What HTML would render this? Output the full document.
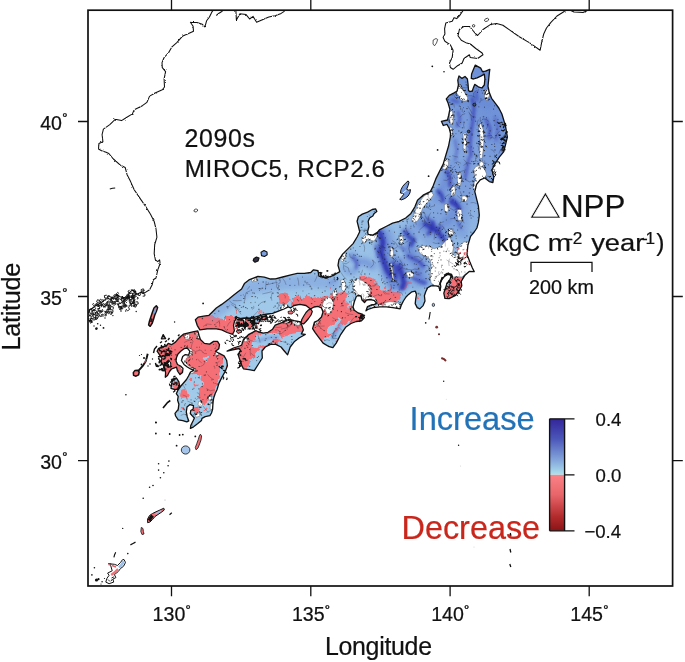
<!DOCTYPE html>
<html lang="en"><head><meta charset="utf-8"><title>NPP change map 2090s MIROC5 RCP2.6</title>
<style>html,body{margin:0;padding:0;background:#fff}svg{display:block}text{font-family:'Liberation Sans', sans-serif;fill:#111;stroke:#111;stroke-width:0.22px}</style>
</head><body>
<svg width="685" height="662" viewBox="0 0 685 662">
<rect width="685" height="662" fill="#fff"/>
<defs>
<clipPath id="frameclip"><rect x="88" y="10" width="584.6" height="576"/></clipPath>
<clipPath id="land"><path d="M459.0 75.9 L462.0 78.4 L465.0 76.5 L467.4 79.0 L468.0 83.8 L468.5 90.4 L469.8 91.6 L472.3 91.0 L473.5 87.4 L474.7 84.4 L478.3 86.8 L481.9 88.0 L484.3 85.0 L484.9 79.0 L484.3 74.1 L481.3 75.9 L477.1 77.8 L473.5 79.0 L471.3 78.4 L471.6 74.1 L473.5 69.3 L475.3 65.1 L480.7 68.1 L482.5 71.7 L485.5 71.1 L489.8 69.3 L489.2 74.1 L488.6 80.2 L488.0 86.2 L489.2 92.3 L491.6 98.3 L495.2 103.1 L498.8 108.0 L501.9 114.0 L503.7 120.0 L505.5 126.1 L507.4 137.2 L505.6 144.4 L503.8 151.7 L499.3 157.1 L494.7 164.4 L492.0 169.8 L493.8 177.1 L492.9 182.5 L489.3 181.6 L484.8 178.0 L480.2 179.8 L476.6 184.3 L474.8 191.6 L476.6 198.8 L478.4 206.1 L479.3 215.1 L478.4 222.4 L476.9 228.0 L474.2 232.0 L470.6 236.3 L467.9 245.3 L467.0 254.4 L469.7 261.6 L472.4 268.0 L474.2 271.6 L469.2 271.5 L465.0 275.2 L461.2 281.5 L461.8 285.8 L459.7 290.0 L455.5 295.3 L449.1 298.6 L444.9 298.4 L443.8 293.2 L445.2 288.8 L447.0 283.4 L450.0 279.5 L451.4 275.2 L448.0 273.8 L444.7 276.0 L442.1 279.3 L440.1 282.6 L440.8 286.5 L440.1 290.5 L438.8 286.5 L436.2 285.9 L431.0 285.9 L427.7 287.8 L425.7 291.8 L424.4 295.7 L425.0 301.0 L423.1 305.6 L419.8 308.9 L417.2 307.6 L415.2 303.6 L415.8 298.4 L416.5 294.4 L415.2 291.1 L411.9 291.8 L408.6 294.4 L406.0 297.0 L403.4 301.0 L401.4 304.9 L400.1 308.9 L392.8 307.6 L386.3 306.9 L379.7 306.9 L373.1 307.6 L367.9 309.5 L366.0 310.8 L367.5 306.5 L371.0 305.0 L374.7 304.4 L376.6 303.1 L374.0 300.3 L370.0 299.5 L366.5 300.0 L364.5 302.5 L362.0 300.0 L361.0 296.0 L358.0 295.5 L356.3 296.5 L354.3 301.8 L353.0 307.0 L354.3 310.3 L358.2 313.0 L362.8 314.3 L364.4 317.6 L361.5 320.8 L356.3 321.5 L351.0 323.5 L345.6 327.3 L340.3 335.2 L336.2 343.1 L332.9 347.7 L328.3 346.3 L323.1 343.1 L319.1 337.8 L315.2 332.6 L312.6 328.6 L314.5 322.0 L318.0 320.5 L321.5 317.0 L323.0 312.0 L321.5 308.0 L318.0 306.3 L314.0 307.0 L310.5 309.0 L306.0 305.5 L300.0 304.3 L294.0 305.5 L290.5 308.0 L288.3 306.8 L284.0 309.0 L279.1 310.8 L272.6 313.4 L268.0 314.0 L263.4 314.7 L256.8 316.7 L251.0 318.5 L246.3 318.0 L241.0 318.5 L237.0 317.3 L234.5 321.3 L233.5 325.3 L234.4 330.7 L232.6 334.3 L227.1 332.5 L221.7 329.8 L216.3 328.9 L207.2 328.9 L199.9 329.8 L197.2 325.3 L195.4 319.8 L198.1 317.1 L203.6 316.2 L209.0 315.3 L212.6 311.7 L216.3 308.0 L221.7 304.4 L228.9 299.0 L234.4 294.4 L241.6 289.0 L244.4 283.6 L248.9 279.9 L257.9 276.3 L264.3 277.2 L270.6 279.0 L275.4 278.8 L282.7 277.0 L289.9 275.2 L297.2 273.4 L304.4 273.4 L310.8 272.5 L313.5 269.8 L318.0 270.7 L318.9 276.1 L322.6 277.0 L326.2 277.9 L331.6 276.1 L335.3 274.3 L339.8 271.6 L338.0 265.3 L338.9 259.8 L342.6 254.1 L347.9 248.9 L353.1 243.6 L357.1 237.0 L359.7 231.8 L358.4 226.5 L357.1 221.3 L358.4 216.7 L362.3 214.1 L367.6 212.1 L372.2 209.5 L375.5 208.8 L376.8 211.4 L374.2 213.4 L372.8 216.0 L369.6 218.0 L368.2 221.3 L368.9 226.5 L367.6 231.8 L368.2 234.4 L372.8 235.1 L377.4 232.4 L379.4 229.8 L386.0 226.5 L392.6 223.2 L399.1 221.3 L405.7 218.0 L410.9 213.4 L414.9 206.8 L417.5 200.3 L423.1 195.2 L430.4 191.6 L433.1 186.1 L435.8 178.9 L439.4 171.6 L443.1 164.4 L445.8 155.3 L448.5 146.3 L450.3 137.2 L450.5 133.3 L449.3 128.5 L446.9 124.3 L443.3 125.5 L441.4 121.3 L447.5 120.0 L448.7 115.2 L449.9 109.2 L448.1 103.1 L446.3 98.9 L449.3 95.3 L454.1 92.9 L457.1 91.0 L458.4 85.0 L457.8 80.2 Z M300.7 322.0 L303.4 329.9 L301.4 333.9 L305.3 334.5 L299.4 337.8 L294.2 341.8 L290.2 347.0 L287.6 354.9 L284.3 351.0 L281.0 347.0 L275.8 344.4 L270.5 344.4 L265.3 347.0 L262.0 351.0 L262.3 358.0 L258.5 364.0 L254.3 370.6 L248.9 369.7 L243.4 368.8 L241.6 365.1 L239.8 359.7 L238.0 354.3 L240.7 350.6 L239.0 348.5 L234.0 349.6 L227.1 351.2 L233.5 348.0 L239.5 346.0 L241.6 345.2 L243.4 339.8 L248.9 334.3 L256.1 330.7 L258.1 331.8 L263.4 333.1 L268.0 332.3 L272.6 329.2 L275.2 325.2 L281.8 322.6 L288.9 319.4 L294.2 320.7 Z M157.1 351.3 L158.4 348.7 L162.3 346.7 L166.3 346.0 L168.2 343.4 L171.5 344.7 L175.5 342.1 L179.4 337.5 L183.4 334.2 L188.6 332.9 L193.9 331.6 L197.8 330.9 L199.1 335.5 L200.4 339.5 L204.4 343.4 L209.6 344.1 L213.6 341.4 L217.5 341.4 L219.5 344.7 L218.8 348.7 L215.5 351.3 L218.8 353.2 L224.1 355.9 L226.7 360.5 L227.4 365.7 L225.4 371.0 L221.6 377.9 L219.0 383.1 L217.0 389.7 L215.2 393.5 L213.7 398.0 L213.1 401.9 L212.8 406.0 L212.6 409.3 L211.5 413.0 L209.9 415.7 L205.2 416.7 L202.0 418.3 L201.5 420.4 L197.8 423.6 L193.6 426.8 L190.4 428.4 L190.9 425.2 L193.0 421.0 L194.4 418.0 L192.0 415.5 L190.3 413.5 L190.8 410.5 L193.2 409.0 L193.5 405.5 L190.0 404.5 L187.0 407.0 L186.3 412.0 L187.3 417.0 L188.8 421.0 L186.8 421.9 L182.8 420.6 L178.2 419.9 L175.6 416.0 L175.0 413.4 L178.2 409.4 L178.9 404.2 L177.6 400.2 L178.2 396.3 L176.3 393.7 L178.0 390.0 L180.5 386.5 L183.5 383.0 L186.5 379.5 L188.5 376.0 L190.5 372.0 L193.9 370.3 L190.6 369.0 L187.3 367.0 L184.0 364.4 L181.4 360.5 L182.7 356.5 L185.3 354.6 L188.6 355.2 L189.9 351.3 L187.3 348.0 L184.0 348.7 L181.0 351.0 L178.0 354.0 L176.5 357.5 L176.0 361.0 L177.5 364.5 L180.5 366.0 L183.0 368.5 L182.5 372.5 L180.0 374.6 L177.5 371.0 L176.5 367.2 L174.5 367.8 L171.5 369.0 L169.5 371.5 L167.5 375.5 L165.3 377.2 L165.6 373.0 L165.0 369.0 L163.1 364.9 L161.0 361.7 L162.0 358.6 L159.9 355.4 L157.8 352.2 Z M171.0 388.4 L171.7 383.1 L173.0 379.2 L176.3 377.9 L178.9 381.8 L179.6 385.8 L177.5 389.0 L175.0 389.7 Z"/></clipPath>
<linearGradient id="cbU" x1="0" y1="0" x2="0" y2="1"><stop offset="0" stop-color="#33259a"/><stop offset="0.35" stop-color="#4a55b8"/><stop offset="0.75" stop-color="#86a8dc"/><stop offset="1" stop-color="#aee3ee"/></linearGradient>
<linearGradient id="cbL" x1="0" y1="0" x2="0" y2="1"><stop offset="0" stop-color="#fb8288"/><stop offset="0.35" stop-color="#e9666a"/><stop offset="0.75" stop-color="#b22a2c"/><stop offset="1" stop-color="#8a1416"/></linearGradient>
<linearGradient id="landg" gradientUnits="userSpaceOnUse" x1="500" y1="70" x2="200" y2="330"><stop offset="0" stop-color="#6d8fd7"/><stop offset="0.12" stop-color="#7295d9"/><stop offset="0.22" stop-color="#84a7df"/><stop offset="0.32" stop-color="#8fb6e3"/><stop offset="0.6" stop-color="#9bc4e8"/><stop offset="1" stop-color="#a2cbea"/></linearGradient>
<filter id="b2" x="-30%" y="-30%" width="160%" height="160%"><feGaussianBlur stdDeviation="1.6"/></filter>
<filter id="rough" filterUnits="userSpaceOnUse" x="88" y="10" width="584" height="576"><feTurbulence type="fractalNoise" baseFrequency="0.16" numOctaves="2" seed="4" result="n"/><feDisplacementMap in="SourceGraphic" in2="n" scale="7" xChannelSelector="R" yChannelSelector="G"/></filter>
<filter id="b3" x="-30%" y="-30%" width="160%" height="160%"><feGaussianBlur stdDeviation="2.4"/></filter>
<filter id="wig" filterUnits="userSpaceOnUse" x="88" y="10" width="585" height="576"><feTurbulence type="fractalNoise" baseFrequency="0.45" numOctaves="2" seed="8" result="n"/><feDisplacementMap in="SourceGraphic" in2="n" scale="2.2" xChannelSelector="R" yChannelSelector="G"/></filter>
<filter id="b1" x="-30%" y="-30%" width="160%" height="160%"><feGaussianBlur stdDeviation="0.8"/></filter>
</defs>
<g clip-path="url(#frameclip)">
<g filter="url(#wig)">
<path d="M212.8 10.6 L211.9 12.0 L209.3 17.3 L206.6 20.8 L204.9 26.9 L202.3 24.3 L197.0 22.5 L191.8 22.5 L190.4 22.3 L193.1 26.3 L193.5 31.3 L188.6 33.6 L182.3 36.3 L176.8 42.6 L171.7 47.2 L168.7 52.6 L164.1 57.5 L162.0 62.6 L162.3 67.6 L165.6 71.6 L164.1 78.9 L164.5 87.0 L162.3 89.8 L155.1 93.0 L149.6 96.1 L146.9 102.4 L142.4 105.7 L134.2 109.7 L132.4 113.9 L126.1 117.8 L121.5 120.6 L115.2 119.3 L109.8 124.6 L103.4 129.1 L102.1 134.5 L102.9 141.8 L98.9 143.6 L98.5 149.0 L101.6 150.8 L106.1 152.3 L108.8 153.5 L113.4 159.0 L120.6 165.3 L125.2 167.5 L127.0 174.4 L130.6 181.6 L134.2 189.8 L139.7 197.9 L146.0 207.0 L150.5 214.3 L154.2 221.5 L156.0 228.8 L156.9 237.3 L154.7 244.5 L154.2 253.6 L155.4 259.9 L157.8 261.7 L159.6 259.9 L160.1 263.5 L157.8 269.9 L156.0 278.0 L153.3 279.8 L152.3 284.4 L149.6 289.8 L144.2 293.1 L140.6 292.5 L136.9 294.3 L132.4 289.8 L128.8 293.4 L127.0 298.0 L120.6 297.1 L117.0 294.3 L113.4 298.0 L106.1 298.9 L102.5 301.6 L95.3 306.1 L89.8 309.8 L88.0 313.4" fill="none" stroke="#111" stroke-width="1.05" stroke-linejoin="round"/>
<path d="M216.3 15.5 L219.0 13.2 L221.5 11.7 L223.0 10.5" fill="none" stroke="#111" stroke-width="1.05" stroke-linejoin="round"/>
<path d="M235.9 10.7 L236.4 19.9 L239.9 13.8 L246.1 14.6 L249.6 19.0 L253.1 16.4 L256.6 22.2 L261.8 19.9 L268.8 16.9 L275.8 15.5 L281.1 13.4 L284.6 11.1" fill="none" stroke="#111" stroke-width="1.05" stroke-linejoin="round"/>
<path d="M463.1 10.5 L459.4 15.9 L456.7 18.6 L454.0 17.7 L452.2 21.3 L445.8 23.1 L444.6 28.6 L444.9 34.0 L443.1 37.6 L444.9 41.3 L450.4 44.9 L453.1 50.3 L452.2 57.6 L449.5 63.0 L450.4 67.5 L453.1 69.3 L457.6 65.7 L462.2 63.0 L464.0 58.5 L469.4 54.8 L470.3 57.6 L477.6 58.5 L483.0 54.8 L482.1 53.0 L475.8 48.5 L470.3 44.0 L466.7 43.1 L461.3 40.3 L458.0 35.8 L459.4 29.5 L464.0 26.4 L469.4 26.4 L472.1 29.5 L475.8 34.0 L477.6 35.5 L483.0 29.5 L490.3 24.6 L496.6 23.5 L502.9 25.3 L510.2 30.4 L519.3 36.7 L530.1 43.1 L540.1 50.3 L541.9 41.3 L543.7 34.0 L546.5 28.0 L550.7 22.6 L557.0 16.0 L565.8 10.5" fill="none" stroke="#111" stroke-width="1.05" stroke-linejoin="round"/>
<path d="M570.8 10.5 L574.0 12.0 L579.0 12.3 L583.0 12.6 L586.0 11.3 L587.0 10.5" fill="none" stroke="#111" stroke-width="1.05" stroke-linejoin="round"/>
</g>
<path d="M459.0 75.9 L462.0 78.4 L465.0 76.5 L467.4 79.0 L468.0 83.8 L468.5 90.4 L469.8 91.6 L472.3 91.0 L473.5 87.4 L474.7 84.4 L478.3 86.8 L481.9 88.0 L484.3 85.0 L484.9 79.0 L484.3 74.1 L481.3 75.9 L477.1 77.8 L473.5 79.0 L471.3 78.4 L471.6 74.1 L473.5 69.3 L475.3 65.1 L480.7 68.1 L482.5 71.7 L485.5 71.1 L489.8 69.3 L489.2 74.1 L488.6 80.2 L488.0 86.2 L489.2 92.3 L491.6 98.3 L495.2 103.1 L498.8 108.0 L501.9 114.0 L503.7 120.0 L505.5 126.1 L507.4 137.2 L505.6 144.4 L503.8 151.7 L499.3 157.1 L494.7 164.4 L492.0 169.8 L493.8 177.1 L492.9 182.5 L489.3 181.6 L484.8 178.0 L480.2 179.8 L476.6 184.3 L474.8 191.6 L476.6 198.8 L478.4 206.1 L479.3 215.1 L478.4 222.4 L476.9 228.0 L474.2 232.0 L470.6 236.3 L467.9 245.3 L467.0 254.4 L469.7 261.6 L472.4 268.0 L474.2 271.6 L469.2 271.5 L465.0 275.2 L461.2 281.5 L461.8 285.8 L459.7 290.0 L455.5 295.3 L449.1 298.6 L444.9 298.4 L443.8 293.2 L445.2 288.8 L447.0 283.4 L450.0 279.5 L451.4 275.2 L448.0 273.8 L444.7 276.0 L442.1 279.3 L440.1 282.6 L440.8 286.5 L440.1 290.5 L438.8 286.5 L436.2 285.9 L431.0 285.9 L427.7 287.8 L425.7 291.8 L424.4 295.7 L425.0 301.0 L423.1 305.6 L419.8 308.9 L417.2 307.6 L415.2 303.6 L415.8 298.4 L416.5 294.4 L415.2 291.1 L411.9 291.8 L408.6 294.4 L406.0 297.0 L403.4 301.0 L401.4 304.9 L400.1 308.9 L392.8 307.6 L386.3 306.9 L379.7 306.9 L373.1 307.6 L367.9 309.5 L366.0 310.8 L367.5 306.5 L371.0 305.0 L374.7 304.4 L376.6 303.1 L374.0 300.3 L370.0 299.5 L366.5 300.0 L364.5 302.5 L362.0 300.0 L361.0 296.0 L358.0 295.5 L356.3 296.5 L354.3 301.8 L353.0 307.0 L354.3 310.3 L358.2 313.0 L362.8 314.3 L364.4 317.6 L361.5 320.8 L356.3 321.5 L351.0 323.5 L345.6 327.3 L340.3 335.2 L336.2 343.1 L332.9 347.7 L328.3 346.3 L323.1 343.1 L319.1 337.8 L315.2 332.6 L312.6 328.6 L314.5 322.0 L318.0 320.5 L321.5 317.0 L323.0 312.0 L321.5 308.0 L318.0 306.3 L314.0 307.0 L310.5 309.0 L306.0 305.5 L300.0 304.3 L294.0 305.5 L290.5 308.0 L288.3 306.8 L284.0 309.0 L279.1 310.8 L272.6 313.4 L268.0 314.0 L263.4 314.7 L256.8 316.7 L251.0 318.5 L246.3 318.0 L241.0 318.5 L237.0 317.3 L234.5 321.3 L233.5 325.3 L234.4 330.7 L232.6 334.3 L227.1 332.5 L221.7 329.8 L216.3 328.9 L207.2 328.9 L199.9 329.8 L197.2 325.3 L195.4 319.8 L198.1 317.1 L203.6 316.2 L209.0 315.3 L212.6 311.7 L216.3 308.0 L221.7 304.4 L228.9 299.0 L234.4 294.4 L241.6 289.0 L244.4 283.6 L248.9 279.9 L257.9 276.3 L264.3 277.2 L270.6 279.0 L275.4 278.8 L282.7 277.0 L289.9 275.2 L297.2 273.4 L304.4 273.4 L310.8 272.5 L313.5 269.8 L318.0 270.7 L318.9 276.1 L322.6 277.0 L326.2 277.9 L331.6 276.1 L335.3 274.3 L339.8 271.6 L338.0 265.3 L338.9 259.8 L342.6 254.1 L347.9 248.9 L353.1 243.6 L357.1 237.0 L359.7 231.8 L358.4 226.5 L357.1 221.3 L358.4 216.7 L362.3 214.1 L367.6 212.1 L372.2 209.5 L375.5 208.8 L376.8 211.4 L374.2 213.4 L372.8 216.0 L369.6 218.0 L368.2 221.3 L368.9 226.5 L367.6 231.8 L368.2 234.4 L372.8 235.1 L377.4 232.4 L379.4 229.8 L386.0 226.5 L392.6 223.2 L399.1 221.3 L405.7 218.0 L410.9 213.4 L414.9 206.8 L417.5 200.3 L423.1 195.2 L430.4 191.6 L433.1 186.1 L435.8 178.9 L439.4 171.6 L443.1 164.4 L445.8 155.3 L448.5 146.3 L450.3 137.2 L450.5 133.3 L449.3 128.5 L446.9 124.3 L443.3 125.5 L441.4 121.3 L447.5 120.0 L448.7 115.2 L449.9 109.2 L448.1 103.1 L446.3 98.9 L449.3 95.3 L454.1 92.9 L457.1 91.0 L458.4 85.0 L457.8 80.2 Z M300.7 322.0 L303.4 329.9 L301.4 333.9 L305.3 334.5 L299.4 337.8 L294.2 341.8 L290.2 347.0 L287.6 354.9 L284.3 351.0 L281.0 347.0 L275.8 344.4 L270.5 344.4 L265.3 347.0 L262.0 351.0 L262.3 358.0 L258.5 364.0 L254.3 370.6 L248.9 369.7 L243.4 368.8 L241.6 365.1 L239.8 359.7 L238.0 354.3 L240.7 350.6 L239.0 348.5 L234.0 349.6 L227.1 351.2 L233.5 348.0 L239.5 346.0 L241.6 345.2 L243.4 339.8 L248.9 334.3 L256.1 330.7 L258.1 331.8 L263.4 333.1 L268.0 332.3 L272.6 329.2 L275.2 325.2 L281.8 322.6 L288.9 319.4 L294.2 320.7 Z M157.1 351.3 L158.4 348.7 L162.3 346.7 L166.3 346.0 L168.2 343.4 L171.5 344.7 L175.5 342.1 L179.4 337.5 L183.4 334.2 L188.6 332.9 L193.9 331.6 L197.8 330.9 L199.1 335.5 L200.4 339.5 L204.4 343.4 L209.6 344.1 L213.6 341.4 L217.5 341.4 L219.5 344.7 L218.8 348.7 L215.5 351.3 L218.8 353.2 L224.1 355.9 L226.7 360.5 L227.4 365.7 L225.4 371.0 L221.6 377.9 L219.0 383.1 L217.0 389.7 L215.2 393.5 L213.7 398.0 L213.1 401.9 L212.8 406.0 L212.6 409.3 L211.5 413.0 L209.9 415.7 L205.2 416.7 L202.0 418.3 L201.5 420.4 L197.8 423.6 L193.6 426.8 L190.4 428.4 L190.9 425.2 L193.0 421.0 L194.4 418.0 L192.0 415.5 L190.3 413.5 L190.8 410.5 L193.2 409.0 L193.5 405.5 L190.0 404.5 L187.0 407.0 L186.3 412.0 L187.3 417.0 L188.8 421.0 L186.8 421.9 L182.8 420.6 L178.2 419.9 L175.6 416.0 L175.0 413.4 L178.2 409.4 L178.9 404.2 L177.6 400.2 L178.2 396.3 L176.3 393.7 L178.0 390.0 L180.5 386.5 L183.5 383.0 L186.5 379.5 L188.5 376.0 L190.5 372.0 L193.9 370.3 L190.6 369.0 L187.3 367.0 L184.0 364.4 L181.4 360.5 L182.7 356.5 L185.3 354.6 L188.6 355.2 L189.9 351.3 L187.3 348.0 L184.0 348.7 L181.0 351.0 L178.0 354.0 L176.5 357.5 L176.0 361.0 L177.5 364.5 L180.5 366.0 L183.0 368.5 L182.5 372.5 L180.0 374.6 L177.5 371.0 L176.5 367.2 L174.5 367.8 L171.5 369.0 L169.5 371.5 L167.5 375.5 L165.3 377.2 L165.6 373.0 L165.0 369.0 L163.1 364.9 L161.0 361.7 L162.0 358.6 L159.9 355.4 L157.8 352.2 Z M171.0 388.4 L171.7 383.1 L173.0 379.2 L176.3 377.9 L178.9 381.8 L179.6 385.8 L177.5 389.0 L175.0 389.7 Z" fill="url(#landg)"/>
<g clip-path="url(#land)">
<g filter="url(#rough)">
<path d="M150.0 325.0 L232.0 325.0 L228.0 352.0 L222.5 362.0 L221.0 372.0 L217.5 382.0 L214.0 392.0 L210.5 401.0 L205.0 405.0 L200.0 402.0 L199.0 393.0 L201.0 385.0 L203.0 377.0 L196.0 374.0 L188.0 377.0 L182.0 377.0 L170.0 377.0 L150.0 377.0 Z" fill="#f46f76" />
<path d="M181.0 390.0 L185.0 389.0 L187.5 393.0 L186.0 398.0 L182.5 399.0 L180.0 396.0 Z" fill="#f46f76" />
<path d="M178.0 378.0 L181.0 384.0 L178.0 390.0 L173.0 389.0 L172.0 383.0 Z" fill="#f46f76" />
<path d="M192.0 408.0 L197.0 406.0 L199.0 411.0 L195.0 414.0 Z" fill="#f46f76" />
<path d="M195.0 317.0 L203.0 316.3 L212.0 315.0 L220.0 318.5 L228.0 321.3 L236.0 322.0 L236.0 336.0 L195.0 336.0 Z" fill="#f46f76" />
<path d="M292.0 301.0 L294.0 298.0 L300.0 296.8 L310.0 297.2 L320.0 296.0 L330.0 294.5 L338.0 293.0 L345.0 292.0 L352.0 297.0 L356.0 305.0 L360.0 312.0 L366.0 316.0 L364.0 322.0 L350.0 326.0 L340.0 340.0 L333.0 350.0 L320.0 345.0 L311.0 330.0 L311.0 310.0 L300.0 308.0 L292.0 308.0 Z" fill="#f46f76" />
<path d="M277.0 296.5 L280.0 293.5 L285.0 292.5 L289.0 294.0 L289.5 300.0 L285.0 303.5 L279.0 302.5 Z" fill="#f46f76" />
<path d="M357.0 279.0 L360.0 276.5 L366.0 275.5 L373.0 278.0 L378.0 283.0 L380.0 289.0 L379.5 296.0 L377.1 300.0 L373.1 303.5 L366.0 304.0 L364.0 298.0 L367.0 292.0 L366.0 285.0 L361.0 280.0 Z" fill="#f46f76" />
<path d="M376.5 301.0 L378.0 294.0 L381.0 289.5 L386.0 290.0 L391.5 287.5 L395.0 291.0 L399.0 291.5 L402.0 295.0 L399.5 300.0 L393.0 303.0 L386.3 304.0 L380.0 305.0 Z" fill="#f46f76" />
<path d="M403.4 289.0 L405.0 283.0 L409.0 280.0 L411.2 282.0 L408.0 286.0 L406.0 290.0 Z" fill="#f46f76" />
<path d="M416.5 295.7 L419.0 295.7 L419.0 298.4 L416.5 298.4 Z" fill="#f46f76" />
<path d="M450.2 281.5 L452.5 277.8 L457.0 276.3 L461.0 277.0 L464.0 279.0 L462.5 285.8 L460.5 290.0 L456.0 296.0 L449.1 299.5 L443.5 299.5 L443.0 293.2 L446.0 287.9 Z" fill="#f46f76" />
<path d="M225.0 317.0 L308.0 317.0 L308.0 372.0 L225.0 372.0 Z" fill="#f46f76" />
<path d="M229.0 356.0 L229.0 368.0 L226.0 374.0 L222.0 381.0 L219.5 388.0 L217.0 395.0 L214.5 402.0 L212.0 410.0 L216.0 410.0 L230.0 372.0 Z" fill="#a0c9ea" />
<path d="M283.0 336.0 L290.0 334.0 L296.0 333.0 L303.0 333.0 L306.0 335.0 L299.4 339.0 L294.2 343.0 L290.2 348.0 L288.0 356.0 L284.3 352.0 L281.0 347.5 L276.0 345.0 L279.0 340.0 Z" fill="#a0c9ea" />
<path d="M253.0 341.0 L257.0 335.0 L264.0 334.0 L272.0 333.5 L279.0 334.5 L282.0 338.0 L276.0 342.0 L268.0 343.5 L262.0 346.0 L256.0 348.0 L252.0 347.0 Z" fill="#a0c9ea" />
<path d="M245.0 366.0 L251.0 362.0 L259.0 361.0 L258.0 367.0 L255.0 372.0 L247.0 371.0 Z" fill="#a0c9ea" />
<path d="M262.0 349.0 L266.0 346.0 L269.0 346.5 L264.0 355.0 L260.0 363.0 L256.0 372.0 L246.0 371.5 L249.0 364.0 L254.0 357.0 L258.0 352.0 Z" fill="#a0c9ea" />
<path d="M321.0 341.0 L326.0 337.0 L332.0 335.0 L337.0 331.0 L341.0 326.0 L347.0 322.0 L352.0 322.0 L345.6 328.3 L340.3 336.2 L336.2 344.1 L333.0 350.0 L328.0 348.0 L322.0 344.0 Z" fill="#a0c9ea" />
<path d="M327.0 332.0 L331.0 326.0 L336.0 321.0 L340.0 318.0 L343.0 320.0 L339.0 325.0 L335.0 330.0 L331.0 334.0 Z" fill="#a0c9ea" />
<path d="M346.5 273.0 L354.4 273.0 L354.0 285.0 L352.5 296.0 L351.5 304.0 L349.0 309.0 L346.5 301.0 L347.0 290.0 Z" fill="#a0c9ea" />
<path d="M184.0 376.0 L196.0 373.5 L203.0 377.0 L201.0 385.0 L199.0 393.0 L190.0 392.5 L186.0 387.5 L181.0 388.5 L183.0 381.0 Z" fill="#a0c9ea" />
<circle cx="204" cy="397" r="3.2" fill="#f46f76"/>
<circle cx="186" cy="396" r="2.6" fill="#f46f76"/>
<circle cx="199" cy="410" r="1.8" fill="#f46f76"/>
<circle cx="183" cy="408" r="1.5" fill="#f46f76"/>
<circle cx="206" cy="409" r="1.6" fill="#f46f76"/>
<circle cx="195" cy="384" r="1.5" fill="#f46f76"/>
<circle cx="190" cy="380" r="1.2" fill="#f46f76"/>
<circle cx="276" cy="340" r="2.6" fill="#f46f76"/>
<circle cx="271" cy="345" r="2" fill="#f46f76"/>
<circle cx="261" cy="311.5" r="1.2" fill="#f46f76"/>
<circle cx="236" cy="312" r="1.0" fill="#f46f76"/>
<circle cx="330" cy="288" r="1.2" fill="#f46f76"/>
<circle cx="385" cy="287" r="1.2" fill="#f46f76"/>
<circle cx="478" cy="250" r="1.0" fill="#f46f76"/>
<circle cx="474" cy="256" r="1.0" fill="#f46f76"/>
<circle cx="470" cy="262" r="1.1" fill="#f46f76"/>
<circle cx="462" cy="260" r="0.9" fill="#f46f76"/>
<circle cx="466" cy="266" r="1.0" fill="#f46f76"/>
<circle cx="205.7" cy="359.2" r="2.1" fill="#a0c9ea"/>
</g>
<g filter="url(#b3)">
<path d="M380.0 232.0 L384.0 245.0 L384.0 258.0 L388.0 272.0 L394.0 284.0" fill="none" stroke="#5f7bd0" stroke-width="13" stroke-linecap="round" stroke-linejoin="round" opacity="0.75"/>
<path d="M398.0 262.0 L402.0 274.0 L402.0 286.0" fill="none" stroke="#5f7bd0" stroke-width="10" stroke-linecap="round" stroke-linejoin="round" opacity="0.75"/>
<path d="M406.0 232.0 L412.0 240.0 L408.0 250.0 L414.0 260.0 L420.0 266.0 L418.0 276.0 L424.0 282.0" fill="none" stroke="#5f7bd0" stroke-width="10" stroke-linecap="round" stroke-linejoin="round" opacity="0.65"/>
<path d="M422.0 224.0 L432.0 228.0 L440.0 234.0 L446.0 242.0" fill="none" stroke="#5f7bd0" stroke-width="11" stroke-linecap="round" stroke-linejoin="round" opacity="0.7"/>
<path d="M450.0 202.0 L458.0 208.0 L452.0 216.0 L446.0 222.0" fill="none" stroke="#5f7bd0" stroke-width="9" stroke-linecap="round" stroke-linejoin="round" opacity="0.6"/>
<path d="M436.0 198.0 L442.0 190.0 L446.0 180.0 L448.0 172.0" fill="none" stroke="#5f7bd0" stroke-width="8" stroke-linecap="round" stroke-linejoin="round" opacity="0.55"/>
<path d="M352.0 256.0 L358.0 262.0 L366.0 262.0 L372.0 266.0" fill="none" stroke="#5f7bd0" stroke-width="8" stroke-linecap="round" stroke-linejoin="round" opacity="0.55"/>
<path d="M344.0 268.0 L350.0 274.0 L356.0 270.0" fill="none" stroke="#5f7bd0" stroke-width="6" stroke-linecap="round" stroke-linejoin="round" opacity="0.4"/>
<path d="M214.0 313.0 L232.0 300.0 L252.0 287.0 L278.0 284.0 L308.0 281.0 L334.0 283.0" fill="none" stroke="#7a9bdb" stroke-width="13" stroke-linecap="round" stroke-linejoin="round" opacity="0.5"/>
<path d="M452.0 100.0 L470.0 96.0 L488.0 104.0" fill="none" stroke="#5f7fd2" stroke-width="12" stroke-linecap="round" stroke-linejoin="round" opacity="0.35"/>
<path d="M418.0 200.0 L470.0 200.0 L468.0 240.0 L452.0 236.0 L446.0 246.0 L426.0 246.0 L418.0 236.0 L408.0 228.0 Z" fill="#6b8dd6" opacity="0.42"/>
<path d="M408.0 246.0 L428.0 248.0 L430.0 262.0 L430.0 284.0 L416.0 290.0 L404.0 284.0 L400.0 262.0 Z" fill="#6b8dd6" opacity="0.42"/>
<path d="M376.0 232.0 L392.0 228.0 L398.0 246.0 L398.0 270.0 L404.0 290.0 L392.0 292.0 L384.0 276.0 L378.0 256.0 Z" fill="#6b8dd6" opacity="0.42"/>
<path d="M440.0 160.0 L470.0 160.0 L474.0 200.0 L436.0 200.0 Z" fill="#6b8dd6" opacity="0.42"/>
</g>
<g filter="url(#b2)">
<path d="M380.0 233.0 L383.0 242.0 L381.0 252.0 L384.0 262.0 L387.0 270.0 L391.0 276.0" fill="none" stroke="#2d32b0" stroke-width="5.5" stroke-linecap="round" stroke-linejoin="round" opacity="0.9"/>
<path d="M376.0 246.0 L378.0 256.0" fill="none" stroke="#2d32b0" stroke-width="3" stroke-linecap="round" stroke-linejoin="round" opacity="0.6"/>
<path d="M393.0 263.0 L396.0 271.0 L396.0 279.0" fill="none" stroke="#2d32b0" stroke-width="3.5" stroke-linecap="round" stroke-linejoin="round" opacity="0.8"/>
<path d="M399.0 266.0 L402.0 275.0 L404.0 283.0 L402.0 288.0" fill="none" stroke="#2d32b0" stroke-width="5" stroke-linecap="round" stroke-linejoin="round" opacity="0.9"/>
<path d="M353.0 257.0 L357.0 263.0 L356.0 268.0" fill="none" stroke="#2d32b0" stroke-width="3" stroke-linecap="round" stroke-linejoin="round" opacity="0.6"/>
<path d="M405.0 232.0 L409.0 237.0 L414.0 240.0 L411.0 245.0" fill="none" stroke="#2d32b0" stroke-width="4" stroke-linecap="round" stroke-linejoin="round" opacity="0.8"/>
<path d="M400.0 246.0 L404.0 250.0" fill="none" stroke="#2d32b0" stroke-width="3" stroke-linecap="round" stroke-linejoin="round" opacity="0.5"/>
<path d="M425.0 224.0 L431.0 228.0 L437.0 231.0 L442.0 237.0" fill="none" stroke="#2d32b0" stroke-width="4.5" stroke-linecap="round" stroke-linejoin="round" opacity="0.9"/>
<path d="M433.0 222.0 L432.0 229.0 L428.0 234.0" fill="none" stroke="#2d32b0" stroke-width="3.5" stroke-linecap="round" stroke-linejoin="round" opacity="0.8"/>
<path d="M437.0 231.0 L441.0 226.0" fill="none" stroke="#2d32b0" stroke-width="3" stroke-linecap="round" stroke-linejoin="round" opacity="0.7"/>
<path d="M408.0 256.0 L414.0 259.0 L420.0 262.0 L423.0 266.0" fill="none" stroke="#2d32b0" stroke-width="3.5" stroke-linecap="round" stroke-linejoin="round" opacity="0.7"/>
<path d="M413.0 278.0 L419.0 281.0 L425.0 283.0" fill="none" stroke="#2d32b0" stroke-width="3.5" stroke-linecap="round" stroke-linejoin="round" opacity="0.65"/>
<path d="M416.0 272.0 L420.0 275.0" fill="none" stroke="#2d32b0" stroke-width="2.5" stroke-linecap="round" stroke-linejoin="round" opacity="0.5"/>
<path d="M451.0 202.0 L456.0 205.0 L459.0 209.0" fill="none" stroke="#2d32b0" stroke-width="4.5" stroke-linecap="round" stroke-linejoin="round" opacity="0.85"/>
<path d="M443.0 238.0 L447.0 244.0" fill="none" stroke="#2d32b0" stroke-width="3.5" stroke-linecap="round" stroke-linejoin="round" opacity="0.6"/>
<path d="M458.0 222.0 L461.0 228.0" fill="none" stroke="#2d32b0" stroke-width="3" stroke-linecap="round" stroke-linejoin="round" opacity="0.5"/>
<path d="M438.0 191.0 L442.0 196.0 L443.0 201.0" fill="none" stroke="#2d32b0" stroke-width="4" stroke-linecap="round" stroke-linejoin="round" opacity="0.8"/>
<path d="M447.0 171.0 L450.0 178.0 L450.0 186.0" fill="none" stroke="#2d32b0" stroke-width="3.5" stroke-linecap="round" stroke-linejoin="round" opacity="0.75"/>
<path d="M451.0 198.0 L456.0 202.0 L459.0 207.0" fill="none" stroke="#2d32b0" stroke-width="3.5" stroke-linecap="round" stroke-linejoin="round" opacity="0.6"/>
<path d="M427.0 218.0 L432.0 223.0 L435.0 227.0" fill="none" stroke="#2d32b0" stroke-width="3.5" stroke-linecap="round" stroke-linejoin="round" opacity="0.6"/>
<path d="M472.0 98.0 L474.0 108.0 L473.0 120.0 L471.0 132.0 L470.0 144.0 L471.0 156.0" fill="none" stroke="#2d32b0" stroke-width="3.2" stroke-linecap="round" stroke-linejoin="round" opacity="0.7"/>
<path d="M469.0 158.0 L467.0 168.0 L465.0 178.0" fill="none" stroke="#2d32b0" stroke-width="3" stroke-linecap="round" stroke-linejoin="round" opacity="0.6"/>
<path d="M458.0 112.0 L460.0 120.0 L457.0 126.0" fill="none" stroke="#2d32b0" stroke-width="3" stroke-linecap="round" stroke-linejoin="round" opacity="0.55"/>
<path d="M455.0 140.0 L457.0 150.0 L455.0 160.0" fill="none" stroke="#2d32b0" stroke-width="2.5" stroke-linecap="round" stroke-linejoin="round" opacity="0.45"/>
<path d="M486.0 120.0 L490.0 128.0 L489.0 138.0" fill="none" stroke="#2d32b0" stroke-width="3.5" stroke-linecap="round" stroke-linejoin="round" opacity="0.55"/>
<path d="M495.0 118.0 L498.0 128.0 L496.0 140.0" fill="none" stroke="#2d32b0" stroke-width="3" stroke-linecap="round" stroke-linejoin="round" opacity="0.4"/>
<path d="M452.0 100.0 L458.0 102.0" fill="none" stroke="#2d32b0" stroke-width="3" stroke-linecap="round" stroke-linejoin="round" opacity="0.5"/>
<path d="M476.0 92.0 L477.0 100.0" fill="none" stroke="#2d32b0" stroke-width="3" stroke-linecap="round" stroke-linejoin="round" opacity="0.5"/>
<path d="M333.0 338.0 L337.0 330.0 L341.0 324.0" fill="none" stroke="#5f7bd0" stroke-width="3" stroke-linecap="round" stroke-linejoin="round" opacity="0.7"/>
<path d="M258.0 341.0 L268.0 338.0 L278.0 337.0" fill="none" stroke="#5f7bd0" stroke-width="2.5" stroke-linecap="round" stroke-linejoin="round" opacity="0.6"/>
<path d="M330.0 283.0 L336.0 280.0" fill="none" stroke="#5f7bd0" stroke-width="3" stroke-linecap="round" stroke-linejoin="round" opacity="0.4"/>
</g>
<path d="M417.4 248.7 L422.7 245.6 L429.0 246.6 L434.3 248.7 L440.7 246.6 L446.0 240.3 L449.1 237.1 L452.3 241.3 L453.4 247.7 L452.3 254.0 L455.5 256.1 L457.6 250.9 L459.7 245.6 L462.9 242.4 L467.1 241.3 L470.0 245.0 L470.0 262.0 L476.0 272.0 L466.0 273.5 L462.0 277.0 L457.0 276.5 L452.3 277.3 L450.2 281.5 L446.0 287.9 L443.0 288.0 L442.0 277.0 L440.7 280.5 L439.1 284.7 L438.0 287.9 L434.3 285.8 L431.1 282.6 L430.1 277.3 L430.6 271.0 L431.1 264.6 L430.1 259.3 L424.8 256.1 L420.6 254.0 Z" fill="#fff" stroke="#333" stroke-width="0.35"/>
<path d="M430.8 190.8 L433.5 194.9 L429.5 200.3 L425.4 204.4 L422.5 208.5 L421.0 213.0 L419.5 217.5 L417.5 221.0 L414.0 222.5 L411.5 220.0 L413.2 216.0 L415.2 211.2 L417.9 204.4 L422.7 197.6 L426.8 193.5 Z" fill="#fff" stroke="#333" stroke-width="0.35"/>
<path d="M367.0 234.4 L372.8 235.7 L377.4 233.1 L376.8 237.0 L374.2 241.0 L370.2 240.3 L368.2 238.4 L366.3 241.0 L363.7 243.6 L361.7 239.7 L364.3 235.7 Z" fill="#fff" stroke="#333" stroke-width="0.35"/>
<path d="M342.6 254.1 L345.9 252.8 L345.0 258.0 L342.5 262.0 L340.5 260.0 Z" fill="#fff" stroke="#333" stroke-width="0.35"/>
<path d="M354.3 280.1 L358.2 278.8 L362.8 280.8 L368.1 284.7 L370.7 290.0 L369.4 295.2 L366.0 300.0 L362.0 300.0 L361.0 296.0 L356.3 296.5 L353.7 291.3 L353.0 284.7 Z" fill="#fff" stroke="#333" stroke-width="0.35"/>
<path d="M366.0 297.0 L372.0 296.0 L376.0 299.0 L377.0 303.5 L371.0 305.5 L367.0 306.5 L364.0 303.0 Z" fill="#fff" stroke="#333" stroke-width="0.35"/>
<path d="M383.6 303.0 L390.0 301.6 L397.0 302.5 L400.7 305.0 L400.0 309.0 L383.0 308.0 Z" fill="#fff" stroke="#333" stroke-width="0.35"/>
<path d="M371.0 305.8 L382.0 304.5 L383.0 308.0 L370.0 309.0 Z" fill="#fff" stroke="#333" stroke-width="0.35"/>
<path d="M340.5 280.5 L343.5 279.5 L345.5 283.0 L346.0 288.0 L344.0 291.5 L341.5 289.5 L341.8 285.0 Z" fill="#fff" stroke="#333" stroke-width="0.35"/>
<path d="M324.4 299.0 L328.0 297.0 L331.0 298.5 L333.6 301.0 L333.0 307.0 L331.0 313.0 L327.0 314.0 L325.0 309.0 L322.0 312.0 L321.5 308.0 L323.0 303.0 Z" fill="#fff" stroke="#333" stroke-width="0.35"/>
<path d="M333.0 291.0 L336.0 289.5 L337.0 294.0 L335.0 298.0 L332.5 296.0 Z" fill="#fff" stroke="#333" stroke-width="0.35"/>
<path d="M474.8 191.6 L476.6 184.3 L480.2 179.8 L484.8 178.0 L486.6 174.0 L484.0 168.0 L480.0 165.5 L476.0 166.5 L473.5 170.0 L474.5 175.0 L475.5 180.0 L472.5 186.0 Z" fill="#fff" stroke="#333" stroke-width="0.35"/>
<path d="M478.5 163.5 L482.0 161.0 L484.0 164.0 L481.0 167.5 Z" fill="#fff" stroke="#333" stroke-width="0.35"/>
<path d="M478.5 124.5 L481.0 123.7 L483.3 130.0 L484.0 140.0 L483.2 150.0 L482.0 158.6 L479.6 158.0 L479.6 150.0 L480.2 140.0 L479.2 132.0 Z" fill="#fff" stroke="#333" stroke-width="0.35"/>
<path d="M463.0 133.6 L466.0 133.0 L466.6 142.0 L465.5 151.7 L463.0 150.0 L463.5 142.0 Z" fill="#fff" stroke="#333" stroke-width="0.35"/>
<path d="M457.3 173.1 L460.5 172.5 L461.4 179.0 L460.5 185.3 L457.8 185.0 L457.3 179.0 Z" fill="#fff" stroke="#333" stroke-width="0.35"/>
<path d="M451.2 186.7 L454.8 186.5 L455.3 192.0 L454.0 196.2 L451.0 195.5 Z" fill="#fff" stroke="#333" stroke-width="0.35"/>
<path d="M444.4 204.4 L448.0 203.8 L448.5 208.5 L447.5 212.5 L444.5 211.5 Z" fill="#fff" stroke="#333" stroke-width="0.35"/>
<path d="M457.3 209.8 L461.5 209.3 L462.1 215.0 L461.0 220.7 L457.8 220.0 L457.0 214.5 Z" fill="#fff" stroke="#333" stroke-width="0.35"/>
<path d="M462.0 196.2 L466.5 195.8 L467.5 199.0 L465.5 201.7 L462.0 201.0 Z" fill="#fff" stroke="#333" stroke-width="0.35"/>
<path d="M449.2 230.2 L452.3 230.0 L452.6 233.5 L451.0 235.6 L449.0 234.5 Z" fill="#fff" stroke="#333" stroke-width="0.35"/>
<path d="M444.4 159.5 L448.3 159.0 L448.5 164.5 L446.8 169.0 L443.3 169.5 L442.5 166.0 Z" fill="#fff" stroke="#333" stroke-width="0.35"/>
<path d="M449.5 127.0 L452.0 127.5 L452.5 136.0 L450.8 137.0 Z" fill="#fff" stroke="#333" stroke-width="0.35"/>
<path d="M458.4 86.8 L460.2 84.4 L462.0 87.4 L464.4 92.3 L467.7 97.7 L467.2 100.7 L463.8 101.0 L460.2 99.5 L459.0 95.9 L456.5 92.9 Z" fill="#fff" stroke="#333" stroke-width="0.35"/>
<path d="M484.5 90.0 L488.3 89.0 L489.5 95.0 L487.0 101.0 L484.5 98.0 Z" fill="#fff" stroke="#333" stroke-width="0.35"/>
<path d="M449.5 110.5 L452.3 110.8 L453.3 117.0 L452.8 124.5 L450.3 124.0 L449.4 117.0 Z" fill="#fff" stroke="#333" stroke-width="0.35"/>
<path d="M399.0 236.3 L402.5 236.0 L403.5 241.0 L401.5 243.5 L399.5 241.0 Z" fill="#fff" stroke="#333" stroke-width="0.35"/>
<path d="M390.5 247.0 L393.0 247.5 L393.6 254.0 L392.0 258.0 L390.0 256.0 Z" fill="#fff" stroke="#333" stroke-width="0.35"/>
<path d="M406.0 272.5 L410.0 271.8 L413.9 273.0 L413.0 276.8 L408.0 277.3 Z" fill="#fff" stroke="#333" stroke-width="0.35"/>
<path d="M390.2 263.0 L391.8 263.5 L394.2 281.0 L392.8 281.3 Z" fill="#fff" stroke="#333" stroke-width="0.35"/>
<path d="M448.8 229.0 L452.5 229.0 L453.4 234.0 L451.0 236.3 L448.5 234.0 Z" fill="#fff" stroke="#333" stroke-width="0.35"/>
<path d="M184.2 350.5 L187.7 347.5 L192.0 349.5 L192.5 353.5 L189.4 356.0 L186.2 358.5 L185.5 361.5 L188.0 365.5 L192.0 367.5 L196.0 369.5 L194.0 372.5 L189.0 374.5 L184.5 372.5 L180.6 368.3 L178.9 363.9 L176.8 361.0 L177.5 357.5 L180.6 355.0 Z" fill="#fff" stroke="#333" stroke-width="0.35"/>
<path d="M198.6 401.5 L202.0 401.0 L202.6 405.0 L200.0 406.8 L198.0 405.0 Z" fill="#fff" stroke="#333" stroke-width="0.35"/>
<path d="M207.8 396.3 L211.0 396.0 L211.8 399.5 L209.0 400.2 Z" fill="#fff" stroke="#333" stroke-width="0.35"/>
<path d="M194.7 413.4 L199.0 413.0 L200.0 416.0 L196.0 417.3 Z" fill="#fff" stroke="#333" stroke-width="0.35"/>
<path d="M282.0 305.0 L287.0 304.0 L289.0 308.0 L285.0 311.0 L281.0 309.0 Z" fill="#fff" stroke="#333" stroke-width="0.35"/>
<path d="M294.0 320.0 L300.0 321.0 L301.0 325.0 L296.0 325.5 L292.0 323.0 Z" fill="#fff" stroke="#333" stroke-width="0.35"/>
<path d="M270.0 343.0 L275.0 343.0 L276.0 346.5 L270.0 347.0 Z" fill="#fff" stroke="#333" stroke-width="0.35"/>
<path d="M243.0 338.0 L247.0 336.0 L248.5 340.0 L245.0 342.0 Z" fill="#fff" stroke="#333" stroke-width="0.35"/>
<path d="M284.0 319.5 L289.0 319.0 L289.5 322.5 L285.0 323.0 Z" fill="#fff" stroke="#333" stroke-width="0.35"/>
<path d="M251.0 279.0 L257.0 277.5 L258.0 280.5 L252.0 282.0 Z" fill="#fff" stroke="#333" stroke-width="0.35"/>
<path d="M314.5 321.0 L317.5 320.0 L318.0 324.0 L315.0 325.0 Z" fill="#fff" stroke="#333" stroke-width="0.35"/>
<path d="M351.5 301.0 L354.0 300.5 L354.5 309.0 L352.0 310.0 Z" fill="#fff" stroke="#333" stroke-width="0.35"/>
<path d="M184.0 335.0 L189.0 334.0 L190.0 338.5 L185.5 339.5 Z" fill="#fff" stroke="#333" stroke-width="0.35"/>
<path d="M196.0 333.0 L199.5 333.0 L200.0 339.0 L197.0 338.0 Z" fill="#fff" stroke="#333" stroke-width="0.35"/>
<path d="M215.5 351.3 L219.0 352.5 L218.0 355.5 L215.0 354.5 Z" fill="#fff" stroke="#333" stroke-width="0.35"/>
<path d="M211.0 400.0 L213.7 400.0 L212.4 409.4 L210.0 409.0 Z" fill="#fff" stroke="#333" stroke-width="0.35"/>
<path d="M418.9 249.0l-0.0 1.4M418.0 245.8l-1.0 0.5M421.3 246.8l0.7 1.0M426.5 246.1l-0.9 0.6M423.9 249.4l-1.1 0.3M430.8 246.7l-1.2 -0.8M432.1 249.0l-0.6 0.3M437.4 248.1l0.3 1.1M441.8 246.6l-0.8 1.1M443.5 239.9l-1.0 0.7M441.8 246.4l0.2 0.7M451.9 241.0l-0.8 -0.5M447.8 239.4l-0.9 0.5M451.5 235.5l-1.1 0.8M451.6 241.7l0.6 -0.6M452.7 245.6l0.0 -0.9M453.8 243.9l0.9 -0.6M452.3 256.2l-0.6 -0.8M451.4 253.1l-1.2 0.5M454.1 257.5l1.3 -0.3M457.8 254.3l-0.1 -1.3M456.6 252.7l-0.7 -0.1M455.1 252.6l0.2 -0.7M458.0 247.7l-1.0 -0.2M460.6 246.2l1.1 -0.3M457.9 243.3l-0.3 1.1M466.9 242.1l-0.7 0.2M470.4 262.1l-0.8 -0.4M471.4 258.5l1.1 -1.0M470.9 248.3l1.1 0.1M468.9 255.2l-1.1 -0.2M469.7 247.6l-0.3 0.5M470.8 259.0l-1.1 0.6M469.8 249.1l0.4 1.1M473.7 266.4l0.6 0.4M474.9 269.0l-1.0 -0.9M469.3 264.1l0.3 0.7M475.0 266.5l-0.4 0.4M468.2 274.6l1.0 -1.0M469.6 271.5l-1.0 1.0M474.7 272.7l0.7 -0.3M474.3 272.4l-0.7 -0.6M463.5 276.8l0.2 -0.6M465.8 276.2l-0.7 0.5M462.6 278.2l0.4 1.5M457.6 277.4l0.2 0.6M456.6 276.7l-1.1 0.5M450.9 277.0l1.4 0.7M452.5 277.6l0.1 1.1M449.7 281.2l0.9 1.0M446.6 288.8l-1.3 -0.0M447.3 282.7l-1.0 -0.2M449.3 281.9l0.2 -0.8M446.7 288.2l-0.2 0.6M443.2 289.7l-0.1 -0.9M443.4 285.1l-0.8 0.3M440.9 283.9l-0.6 0.8M440.4 283.3l0.3 0.6M442.4 280.7l0.5 0.4M443.5 280.2l0.7 -0.7M441.4 278.5l0.8 -0.4M443.7 279.7l0.1 1.2M442.1 282.6l-0.5 0.5M441.1 282.5l0.9 -0.4M436.7 286.9l1.2 0.9M440.9 288.4l-1.1 0.1M436.2 287.1l0.5 1.4M432.1 285.1l1.6 0.1M429.6 280.0l-0.5 -1.3M430.3 276.9l-0.1 0.7M431.0 275.7l0.6 0.6M431.6 273.7l0.8 -0.0M429.0 268.1l0.6 0.9M428.9 270.1l1.1 0.5M428.5 261.8l0.5 0.3M432.0 267.0l-0.4 1.3M426.0 256.2l-0.7 -0.9M432.0 259.3l-0.5 0.8M426.7 258.8l-0.5 0.8M431.0 256.6l0.9 -1.2M429.9 190.1l0.7 0.2M427.4 199.2l-0.4 0.7M430.4 199.2l0.3 0.7M429.0 200.7l-0.6 -0.8M426.9 203.9l-0.3 -0.6M424.5 206.4l-0.3 1.2M423.2 201.7l0.7 -0.1M421.0 216.5l-0.1 1.1M421.1 213.7l0.2 1.5M419.6 214.7l0.3 -0.7M422.0 217.8l-0.9 1.2M414.1 219.3l-0.7 -0.8M412.3 221.1l0.8 -0.1M415.9 215.9l-0.3 1.1M414.3 215.9l-0.7 0.7M417.7 207.6l-0.3 0.6M414.1 210.8l-0.0 0.8M419.6 208.2l0.9 0.0M422.3 196.9l1.1 -1.1M420.6 201.8l-0.8 0.6M419.5 204.5l0.5 -0.7M424.9 194.9l-0.5 -0.9M426.8 194.3l1.3 -0.1M428.2 193.1l-0.6 -0.6M431.3 191.6l1.0 -0.3M427.5 192.5l0.2 1.0M371.8 234.5l-1.4 0.7M370.4 234.3l-0.7 -0.3M374.2 234.7l-1.3 0.1M375.9 232.6l1.3 -0.9M376.1 233.7l-0.6 1.4M377.8 233.4l-1.4 0.6M377.4 235.6l0.4 1.1M379.1 237.9l1.3 0.3M372.2 242.1l-0.6 0.1M369.3 242.7l0.8 0.1M375.9 240.2l0.4 1.5M366.1 241.1l-0.6 1.1M366.8 239.9l-0.6 -0.1M369.0 240.0l1.2 -0.6M362.2 243.0l-0.4 0.8M363.4 238.4l-1.5 -0.4M366.1 233.2l-0.5 0.5M365.0 237.9l0.4 -1.1M346.6 253.1l-0.1 0.8M342.8 256.1l0.6 0.2M344.6 258.0l-0.5 0.7M345.7 255.4l0.8 0.7M343.0 259.5l0.6 0.8M340.3 257.4l1.1 -1.1M341.0 257.1l0.9 -0.9M356.3 278.6l-0.2 1.6M355.2 280.0l0.6 0.3M365.6 282.5l-0.8 0.2M365.9 282.5l0.1 0.6M368.7 289.2l0.9 0.8M370.1 286.1l0.0 -0.7M368.1 285.8l0.9 -1.2M371.5 289.3l-0.5 -1.0M368.3 291.7l-1.6 -0.2M371.3 293.7l0.0 -1.5M370.2 294.5l0.1 0.8M363.7 298.9l-0.5 0.4M360.8 299.2l0.4 0.6M358.1 296.1l0.3 1.2M359.4 296.1l-0.5 -1.3M359.6 299.3l0.3 1.5M355.7 294.9l0.0 -1.5M352.4 291.7l0.5 1.1M355.1 290.5l-0.9 -0.7M354.5 286.5l-1.2 -0.1M355.2 292.1l-0.8 0.9M352.8 288.9l0.4 0.6M351.2 282.5l0.3 -1.1M352.3 280.8l-0.3 -1.5M354.5 282.4l-0.7 -0.7M368.4 297.2l0.7 -1.3M371.4 296.0l-0.2 0.8M369.2 294.7l-1.2 -0.9M375.9 299.4l-0.6 0.6M371.4 296.1l-1.1 -0.2M375.0 302.6l-1.4 0.6M376.2 300.1l0.6 1.1M374.7 303.7l-1.1 -0.7M371.3 305.7l-0.0 -1.4M369.3 306.7l-0.7 0.1M366.7 307.6l1.2 -0.6M369.2 306.0l0.9 -0.6M362.1 304.2l-1.3 0.2M365.4 304.6l-0.1 0.8M365.2 304.1l1.0 0.6M364.1 300.3l-0.7 0.0M369.3 295.9l1.5 0.6M365.2 299.7l1.0 1.1M363.2 303.4l-0.9 -0.4M385.4 300.7l-0.4 0.5M383.9 302.3l-0.6 0.9M389.4 299.8l1.0 -1.1M395.5 304.5l0.5 -1.3M391.4 304.7l0.9 1.2M394.2 303.8l-1.1 0.5M394.7 301.2l0.5 0.6M399.9 302.9l0.4 -0.7M399.6 304.5l0.9 -0.0M399.6 307.1l0.5 -0.5M392.7 310.3l-1.0 0.9M395.8 308.1l0.9 -1.0M389.5 309.3l-0.3 0.8M398.9 309.2l-0.8 1.3M388.7 308.0l-0.2 -1.2M398.6 309.4l-0.9 -0.2M385.4 310.1l1.2 0.9M397.2 307.8l-0.8 -1.3M393.2 308.0l0.0 1.3M391.1 309.4l-0.8 0.7M385.0 305.0l-0.1 -1.1M378.6 304.4l-0.1 1.3M374.0 306.2l0.6 0.4M381.1 303.8l0.6 -0.9M374.1 306.4l1.0 0.3M381.1 304.8l-0.4 -0.8M372.8 309.3l0.6 -0.5M376.8 307.4l-0.7 1.1M372.3 308.5l0.7 0.6M377.5 311.1l-1.1 -1.1M378.4 308.0l0.8 0.6M376.7 309.3l0.7 -0.3M370.6 310.1l-0.7 -0.6M342.1 282.5l1.2 -0.1M344.6 282.0l0.8 0.8M343.6 279.6l0.5 -0.9M345.2 286.4l0.5 -0.9M345.9 288.9l-0.6 0.5M347.1 287.7l-0.0 -1.3M344.5 291.1l-0.8 1.0M340.3 286.4l-0.6 0.4M327.3 298.0l0.0 0.8M334.5 299.8l-0.7 -0.1M332.9 300.0l-0.2 1.0M332.4 300.1l-0.6 -1.4M333.4 301.1l-0.6 -0.2M334.8 305.5l-1.5 -0.3M333.5 309.2l-0.9 -0.4M332.6 308.6l0.4 -0.7M329.9 307.5l-1.3 0.7M331.2 312.0l-0.4 -0.5M328.8 315.3l-0.7 0.4M330.3 312.4l0.7 -0.2M325.1 313.4l0.1 1.4M326.8 307.8l-1.3 0.1M324.1 311.6l0.3 -0.6M322.5 309.7l-0.8 0.2M320.3 308.8l0.8 -1.3M321.3 310.7l-0.3 0.7M320.8 304.5l-0.8 0.7M322.6 305.7l0.8 1.0M324.8 299.5l0.1 1.1M335.5 289.4l0.4 -1.0M336.1 291.7l0.2 -0.6M334.5 292.2l-0.1 -1.2M334.1 298.8l0.5 -0.7M336.1 294.6l1.0 0.1M333.2 297.1l-0.6 0.3M473.4 189.5l0.7 -0.4M476.4 186.0l-0.5 0.7M483.5 177.5l-0.6 -0.6M476.5 180.9l-0.8 -0.2M482.3 180.0l-1.1 -0.1M485.7 177.0l0.6 1.0M485.2 168.2l0.4 -0.8M485.0 166.9l0.7 0.9M484.5 169.4l0.5 0.4M484.0 168.0l0.2 -0.7M480.2 168.1l0.1 0.9M474.9 163.6l-1.4 0.3M475.7 171.0l0.9 -0.7M473.7 171.3l0.6 -0.2M475.0 175.6l-0.8 0.9M474.0 172.8l-0.5 -0.7M475.0 179.3l0.5 -0.6M473.2 184.3l0.9 -0.1M473.4 185.0l-0.0 1.5M471.3 184.9l0.4 0.4M473.2 181.9l0.7 -0.5M480.5 160.3l-1.1 -0.3M484.3 165.7l0.7 0.3M477.7 163.9l1.2 -0.0M479.4 167.0l-0.6 1.2M482.0 166.4l0.5 0.6M481.9 122.3l-0.4 0.9M479.3 125.7l-0.2 1.0M482.8 126.2l0.3 0.6M483.1 125.1l0.3 0.7M484.1 131.6l0.7 0.9M484.5 132.4l-1.4 -0.3M484.2 140.1l-1.2 -0.6M483.8 136.2l1.5 -0.3M483.5 130.7l-0.4 1.0M485.9 145.8l0.7 1.1M481.2 146.2l1.5 0.3M484.3 141.4l0.8 0.9M484.0 155.9l0.9 -0.2M483.4 149.9l1.2 0.7M476.6 155.2l0.1 1.2M479.6 152.2l0.4 -0.7M480.7 147.0l1.5 0.6M480.7 144.2l-0.9 0.1M479.4 141.2l-1.1 0.4M479.9 142.3l1.2 0.8M479.3 144.0l-1.3 -0.4M478.7 130.7l-0.6 1.0M479.7 135.5l0.3 -0.5M478.7 136.0l-1.3 -0.3M478.8 131.3l1.2 0.3M481.7 139.3l0.6 1.3M479.9 127.9l1.0 0.8M479.5 124.7l-1.0 0.9M479.4 130.8l-0.6 0.7M466.9 134.5l0.8 0.9M465.5 140.1l-0.3 -1.3M466.4 137.0l0.5 0.4M465.2 151.7l-1.3 -0.6M467.7 142.5l1.5 0.1M466.2 141.6l0.7 0.5M465.7 145.0l1.3 -0.9M465.8 144.3l1.1 -0.8M463.7 149.1l0.6 0.2M466.7 151.1l-0.1 1.6M462.3 141.9l0.6 0.6M462.7 143.2l1.0 -0.8M462.5 143.4l0.1 -1.0M465.2 139.9l0.1 -1.1M462.2 138.6l0.5 1.1M461.9 132.1l-1.2 0.7M465.4 134.7l-1.0 0.1M458.5 173.1l-0.4 -0.7M457.8 174.3l1.2 -0.1M461.4 176.0l-0.2 1.6M460.9 178.3l-1.5 -0.0M461.1 177.5l-0.2 0.7M459.8 186.4l-0.7 1.1M462.2 180.1l-0.4 1.4M458.8 183.7l0.5 -0.5M456.5 184.5l1.4 0.6M456.6 172.5l-0.9 -1.3M452.5 185.7l0.6 -0.4M455.6 185.3l0.9 -1.1M455.8 190.0l0.4 -0.7M453.6 192.8l-0.7 1.3M453.1 195.1l0.7 -0.1M451.8 196.2l-1.1 0.7M451.8 191.1l0.9 -1.2M450.0 189.1l-0.4 1.1M451.4 187.3l0.9 -0.1M450.3 189.1l0.7 -0.3M447.8 204.4l-0.4 0.9M448.8 207.4l0.1 -0.8M446.4 212.1l-1.0 -0.0M447.4 206.7l0.6 -0.0M441.6 210.1l0.4 -0.7M459.8 214.1l0.0 0.8M462.5 215.4l-0.9 -0.9M462.7 219.9l-0.1 1.0M462.5 218.0l-0.2 -0.9M461.5 218.3l-0.0 -1.0M457.3 215.8l-1.3 -0.9M457.1 220.6l-0.6 0.1M454.4 217.4l0.4 0.9M456.1 211.2l-0.3 1.2M459.6 215.8l-0.7 0.6M467.2 197.1l0.1 -0.7M467.8 196.3l-0.4 -0.5M466.0 196.1l1.0 -0.3M464.0 199.6l-0.3 1.5M464.1 201.4l0.2 -1.4M454.6 232.5l0.5 0.5M452.4 234.9l-1.0 -0.6M449.1 235.2l0.9 -0.8M448.8 230.8l-0.3 -1.4M445.7 160.5l-0.6 0.3M446.6 159.5l-0.1 -0.6M449.2 159.9l-0.8 -0.9M447.2 166.5l1.1 0.9M442.5 169.8l-0.9 0.9M446.0 169.4l0.5 -1.5M443.9 165.5l-0.1 1.0M444.7 164.3l-1.0 -0.1M442.7 162.2l0.2 0.8M452.1 133.7l1.0 0.2M450.5 130.9l0.4 -0.9M452.3 130.5l0.9 -1.0M453.9 135.9l-0.6 1.2M451.0 136.0l0.6 -1.0M450.4 134.6l-0.5 0.5M450.1 132.5l-1.3 -0.1M451.8 129.7l0.3 0.9M448.9 136.0l-0.6 -0.3M459.8 86.5l-1.0 -0.5M461.1 85.5l-0.7 -0.8M464.0 90.6l-1.1 -0.5M462.2 88.8l-0.8 -0.7M461.4 86.5l-0.7 0.9M466.3 94.5l-0.9 -0.5M464.1 90.6l1.5 -0.3M466.8 94.5l-0.7 0.0M467.3 101.0l1.3 0.7M464.4 99.3l-0.7 -0.3M467.8 100.3l0.7 0.3M462.6 99.5l-1.1 -1.0M461.6 102.0l1.0 -0.0M459.8 98.0l-0.6 -0.2M460.1 96.2l-0.9 1.2M457.0 95.4l-0.9 -0.4M457.4 97.5l-0.8 1.2M456.4 92.8l-0.3 1.2M456.1 90.7l-0.9 0.3M455.4 91.3l-0.8 0.2M487.0 90.1l-0.8 0.9M489.2 93.3l-1.5 0.2M487.4 94.3l-1.1 0.4M491.2 93.9l-1.2 -1.0M487.3 98.0l-0.8 -0.2M485.7 98.2l1.0 0.2M489.6 99.3l-1.3 0.7M485.4 98.0l0.4 1.1M485.5 92.5l0.5 -1.5M485.6 93.0l-0.5 -0.4M485.0 93.3l-0.1 0.9M485.2 98.5l1.5 -0.4M483.5 90.6l1.5 -0.3M451.8 110.1l0.9 -0.6M450.2 111.3l-0.7 0.7M454.0 116.2l-0.1 -1.3M451.6 116.0l1.1 -0.7M452.4 114.7l-1.0 1.1M452.3 124.1l0.0 -1.0M449.6 121.9l0.1 0.6M448.9 121.1l0.4 -1.0M447.7 114.7l-0.3 -0.7M448.3 108.9l0.7 1.0M400.6 234.0l0.8 -0.5M400.1 233.7l0.6 -0.3M404.3 239.7l1.3 -0.4M401.0 235.9l-1.1 0.1M400.7 244.4l0.6 0.3M401.7 239.5l-1.3 0.9M402.6 243.0l1.2 0.6M399.5 244.3l-0.6 -1.4M397.8 239.1l-0.8 0.5M401.0 239.4l0.9 0.9M389.9 246.8l-1.4 0.3M396.2 250.6l0.7 1.0M392.6 247.4l-0.6 0.2M393.4 248.4l-1.3 -0.3M395.3 255.1l-1.4 0.0M393.6 259.1l-0.9 -1.2M389.8 255.0l0.6 0.6M390.4 250.3l-0.1 0.6M404.7 274.0l-1.0 1.1M412.9 273.0l0.8 0.1M411.5 271.0l0.0 1.0M411.9 272.7l0.7 -0.3M413.6 273.1l-0.4 0.6M409.3 277.3l0.1 1.1M409.6 274.2l0.2 1.1M405.8 272.9l-0.3 1.1M389.4 264.5l0.3 -1.0M393.1 279.7l-0.4 -1.2M392.0 266.7l-0.8 -1.1M390.7 268.6l-1.2 0.1M394.8 280.5l0.3 1.1M393.2 273.8l-1.0 -1.2M394.9 274.0l-0.0 1.0M392.2 280.3l0.6 -0.7M391.2 281.1l1.0 0.2M390.8 270.3l-0.8 0.5M394.7 280.6l-0.6 0.1M391.7 270.7l-0.9 0.3M392.4 266.4l0.9 -1.0M391.2 273.2l-1.0 0.0M389.1 265.8l1.1 -0.0M389.2 264.1l0.8 -0.3M451.1 229.0l-0.1 0.7M448.4 233.4l0.1 1.1M451.7 235.6l-0.8 -0.6M452.3 235.3l-0.7 0.7M450.2 237.0l-1.4 -0.7M450.8 237.0l-0.8 -1.3M449.0 231.0l0.6 -0.6M446.6 231.6l-1.1 0.9M448.6 229.1l-0.5 0.7M184.9 345.6l-0.3 0.7M186.9 346.9l0.4 -0.9M184.7 351.7l-0.3 -0.7M188.4 350.6l-0.8 0.9M191.0 351.5l1.2 0.6M192.3 355.0l-0.5 -1.3M188.2 354.8l0.8 0.5M189.4 359.9l0.8 -0.6M188.4 360.9l0.8 -0.2M186.3 362.1l0.5 0.7M186.5 363.4l-0.2 -0.9M184.9 362.2l-0.2 -1.3M192.2 367.9l-1.4 0.0M189.1 364.3l0.5 0.6M192.9 367.2l0.3 0.8M193.8 368.7l1.6 0.2M193.6 369.2l-0.6 0.8M196.1 370.7l-1.3 0.9M196.6 371.2l0.8 -0.3M190.5 372.1l-0.4 1.0M188.8 372.9l-0.8 -0.4M185.3 373.4l0.3 -1.0M183.9 372.3l0.4 -1.0M185.3 373.7l1.0 0.9M183.4 373.4l-1.3 -0.2M183.2 373.1l-0.5 -0.6M180.9 363.4l0.8 -0.1M178.6 362.3l-0.1 0.6M176.6 360.2l-0.7 -1.2M179.5 355.4l-0.3 -1.1M179.8 354.5l0.1 -0.6M179.6 357.7l-0.5 0.5M201.2 401.7l-0.3 -1.2M201.6 402.9l-0.0 -1.5M199.7 407.5l1.4 -0.1M194.1 401.2l0.8 0.3M209.5 395.5l0.2 0.8M210.4 394.7l-1.2 0.8M210.8 399.8l0.6 -0.3M208.3 403.6l0.4 1.2M208.7 396.7l-1.3 0.6M208.3 397.9l-0.7 0.5M195.3 414.6l1.6 -0.1M195.0 413.8l1.2 0.6M196.6 413.5l0.9 -0.6M200.9 414.4l0.5 0.8M200.5 413.1l1.3 -0.6M194.3 410.3l-1.3 0.1M284.4 304.0l-0.7 0.5M287.7 305.3l-0.2 1.0M284.4 305.6l-1.4 -0.4M283.0 311.6l-0.1 -1.5M281.8 309.7l-1.2 0.5M283.6 312.1l-1.2 -0.6M280.8 307.4l-0.2 1.0M283.5 307.1l0.7 -0.4M294.9 318.9l-1.5 0.4M296.4 320.6l0.9 -0.1M297.7 322.5l-0.7 -0.6M300.9 324.1l-0.5 0.5M302.4 323.1l-0.8 0.1M295.0 324.8l-0.3 0.7M294.5 324.8l0.2 -0.8M291.5 323.4l-0.6 1.4M291.1 322.0l-0.5 -0.5M269.1 344.7l-0.9 -0.8M273.6 341.3l-1.0 0.1M275.9 342.8l-1.0 0.9M271.8 347.7l0.4 1.5M274.6 346.4l-0.3 1.4M270.1 343.6l-0.7 -0.1M272.3 344.1l-0.1 1.2M269.0 344.5l0.4 0.9M248.2 338.1l0.4 1.0M245.9 334.4l-1.3 0.6M247.5 336.6l-0.7 0.4M247.1 338.5l0.2 1.2M249.0 341.6l0.6 0.3M248.1 343.4l-0.5 -0.5M244.4 339.1l-1.3 0.1M245.1 338.4l-1.0 0.7M289.6 319.7l0.2 0.9M284.7 319.6l1.0 -0.6M287.0 323.2l-0.5 0.7M287.2 324.6l0.7 1.1M289.1 322.2l0.9 -0.6M290.9 321.5l-0.5 -0.7M282.1 320.0l-0.7 0.4M256.1 277.5l0.6 -0.3M256.0 278.5l1.2 1.0M256.7 279.9l0.8 0.2M253.5 280.9l1.1 -1.2M313.5 319.3l-0.9 -0.1M319.7 321.5l0.5 -0.8M316.0 321.0l0.6 0.7M318.9 323.5l0.8 -0.9M316.6 323.4l-0.9 -1.1M314.3 323.8l-0.2 1.5M353.3 310.0l0.9 0.1M354.2 303.6l-0.3 0.8M354.9 308.1l-0.7 0.6M351.2 310.8l-0.6 0.2M354.1 306.7l1.3 -0.6M352.3 308.0l-0.2 -1.3M350.4 308.4l-0.0 1.3M187.3 334.2l-0.4 -0.4M185.3 335.0l-0.3 0.7M191.5 339.4l0.5 0.7M190.2 337.6l-0.8 0.4M187.0 337.3l0.5 -0.4M183.1 335.8l0.7 0.3M197.4 337.7l-0.8 0.9M199.0 333.9l0.2 -0.8M198.2 335.9l-0.8 1.0M199.1 338.3l-0.1 0.8M194.9 334.2l-0.2 -1.4M197.4 335.1l1.1 -0.9M197.3 338.7l0.8 0.3M218.6 352.7l0.7 0.5M218.1 355.7l-1.3 0.4M214.2 355.4l-0.8 0.3M215.3 352.9l-0.5 1.0M211.3 400.6l0.6 0.6M211.6 403.0l0.4 -0.7M218.5 399.3l0.7 -0.7M215.1 402.9l0.5 -0.9M213.0 406.2l-0.3 1.0M209.3 404.5l-1.5 -0.1M212.3 402.5l-0.1 1.0M212.9 401.2l0.2 -1.5" stroke="#111" stroke-width="0.85" fill="none" stroke-linecap="round"/>
<path d="M459.0 167.2h0.9M344.6 271.2h0.9M406.4 268.8h0.9M429.8 232.3h1.4M214.7 348.5h0.7M356.8 254.3h1.1M425.2 272.0h1.1M247.2 317.9h0.7M445.9 165.3h1.4M469.3 188.4h1.4M278.0 286.0h1.4M494.8 115.8h0.9M195.2 377.9h0.7M366.8 235.4h0.7M448.4 119.7h0.7M257.3 297.9h0.7M427.9 257.1h1.1M379.1 286.9h0.9M322.6 301.6h0.7M450.5 104.4h1.4M204.4 394.8h0.9M370.2 280.5h1.4M383.9 254.8h0.9M197.2 396.7h1.1M443.4 251.2h0.9M320.5 328.3h0.7M428.0 247.9h0.7M309.6 286.6h0.9M399.4 227.4h1.4M471.4 135.0h1.4M472.9 117.1h1.1M201.5 386.6h1.4M374.6 249.5h0.7M190.6 399.9h0.9M460.6 227.9h1.1M310.4 308.7h1.1M413.9 263.9h0.9M310.9 303.6h1.4M386.3 262.0h1.4M250.4 302.7h0.9M466.5 204.1h1.1M409.4 242.9h1.1M165.8 369.1h1.4M351.1 292.3h0.9M426.1 288.3h0.9M246.8 308.6h0.9M471.7 133.7h0.7M490.4 138.0h0.7M493.0 109.1h1.1M452.1 104.4h0.9M450.5 165.7h0.9M413.6 226.8h0.9M243.7 302.7h1.1M323.9 307.5h0.7M419.9 212.7h1.4M247.3 338.3h1.4M320.4 277.3h0.7M189.2 365.4h1.4M180.6 347.4h0.7M240.6 295.4h0.7M489.7 130.9h1.1M242.6 306.9h1.1M494.0 105.8h0.9M286.8 344.4h1.1M445.9 220.0h0.7M266.4 332.8h1.4M473.5 185.5h1.1M447.4 99.7h1.4M215.9 357.0h1.1M405.5 225.4h0.9M470.9 146.9h0.7M476.7 129.7h0.7M461.8 226.2h1.1M444.8 211.3h1.1M348.0 296.5h0.7M468.1 213.2h0.7M451.8 103.6h1.4M348.0 292.0h1.1M310.9 288.9h1.4M438.8 246.6h0.7M482.0 176.1h0.7M199.0 377.1h0.7M479.8 121.1h0.9M472.8 161.7h1.4M481.2 137.1h1.1M295.2 295.5h1.1M210.7 350.4h0.7M325.8 286.6h0.7M360.1 278.0h0.9M247.1 360.3h0.7M170.2 363.7h1.1M364.1 274.0h1.4M171.0 348.2h0.7M336.6 297.8h1.4M418.3 232.1h1.4M244.1 298.3h0.7M270.8 337.4h1.1M433.8 253.6h1.1M471.9 91.6h0.7M211.1 394.7h0.9M399.4 306.1h1.4M494.1 146.5h1.1M434.1 204.9h0.7M342.2 305.7h1.4M456.5 288.8h0.7M448.0 272.6h1.1M449.5 156.4h0.9M401.8 244.4h0.7M418.3 216.2h0.7M398.1 284.0h0.7M205.9 371.9h1.1M428.4 274.3h0.9M270.3 297.8h0.9M478.1 163.9h1.4M457.6 221.5h0.9M330.2 294.0h1.4M402.4 277.3h1.4M381.0 276.0h0.9M394.7 297.4h1.4M455.8 238.6h0.7M373.8 211.5h0.9M472.0 181.4h0.7M356.8 260.2h1.4M334.4 296.5h1.1M491.3 137.7h0.9M291.3 342.2h0.7M412.5 287.2h0.7M393.0 274.7h0.7M196.5 347.3h0.9M277.1 296.4h1.4M450.1 191.3h0.9M379.4 303.9h1.1M369.0 274.0h0.9M178.3 370.5h0.7M379.3 295.4h0.7M324.3 340.2h0.9M460.2 195.5h1.4M430.3 265.0h0.9M219.2 323.9h0.9M361.1 294.9h0.7M166.7 364.1h1.4M370.2 288.2h0.7M226.5 306.8h1.4M463.9 111.3h1.1M441.7 272.9h1.4M289.4 279.0h0.9M463.0 107.7h0.7M329.3 307.7h1.1M262.5 282.0h1.4M493.4 120.7h1.4M250.8 290.1h1.1M501.5 151.1h1.4M396.5 282.7h0.9M302.1 277.1h0.7M437.0 262.7h1.4M485.4 146.6h0.7M394.0 232.2h0.9M344.6 258.4h1.1M321.6 278.1h0.9M353.6 277.1h0.9M244.2 348.3h1.4M363.5 285.2h0.9M193.2 414.9h1.1M182.3 400.7h1.4M215.8 374.4h1.1M184.9 403.6h0.7M321.9 292.4h0.9M269.5 332.3h0.9M406.9 264.7h0.9M256.8 357.5h1.1M475.1 102.2h0.7M450.7 104.1h0.9M453.6 253.0h0.9M369.1 243.3h1.1M391.2 292.5h0.9M296.9 327.0h0.7M251.4 296.5h1.4M413.1 225.2h0.7M341.0 258.8h0.7M379.3 231.7h0.9M452.3 254.5h1.4M453.5 268.8h1.1M492.3 166.4h1.1M471.1 172.4h1.4M393.1 288.0h1.1M445.6 251.6h1.4M246.7 293.3h0.9M456.0 163.3h0.7M314.8 327.5h1.1M364.4 299.8h0.7M495.2 135.6h1.4M472.5 170.9h1.1M278.8 280.0h1.1M361.5 315.9h0.7M469.7 215.7h0.9M355.2 293.6h0.7M213.1 344.5h1.1M177.4 410.7h1.4M446.3 286.8h0.7M293.5 323.4h0.7M447.3 190.0h0.9M295.9 292.9h0.9M219.4 325.9h0.7M460.1 108.9h1.1M403.4 231.2h1.4M276.8 292.7h0.9M415.8 264.4h0.9M190.3 342.6h1.1M360.6 317.5h0.9M264.7 347.5h1.1M484.1 107.2h0.9M379.5 261.3h0.9M496.9 122.2h1.1M365.5 230.6h1.4M449.2 102.4h1.1M324.8 336.5h1.1M452.2 169.6h0.9M261.7 288.2h1.4M216.4 365.4h1.1M188.6 357.0h1.4M433.3 217.4h1.1M494.2 125.2h0.9M294.5 285.4h0.7M393.5 285.4h1.1M282.7 302.9h0.9M218.0 311.1h1.4M358.5 265.3h1.4M344.8 317.8h0.7M396.9 261.4h0.9M199.2 347.2h0.7M477.1 92.5h0.9M463.5 122.2h1.1M267.9 283.1h0.7M201.9 383.9h1.1M215.6 362.8h1.4M399.5 226.0h0.9M318.4 273.5h1.4M487.5 176.3h1.1M354.8 255.4h0.9M377.9 294.8h1.1M451.9 178.1h0.9M465.2 186.2h0.9M212.8 379.4h0.7M264.1 302.0h1.1M201.4 343.9h0.7M273.9 311.7h0.9M386.6 282.6h1.1M442.8 236.7h0.7M321.3 302.5h1.1M430.5 255.5h1.1M438.2 230.2h1.1M476.5 199.0h0.9M466.6 244.5h0.9M464.0 152.4h1.1M395.8 281.1h1.4M428.6 222.5h1.4M214.4 313.6h0.9M378.0 261.8h0.7M499.9 142.9h0.7M397.7 301.7h1.1M347.6 315.4h1.1M382.6 263.1h1.1M314.0 273.8h1.4M333.6 279.1h1.4M339.5 286.7h1.1M175.9 355.0h0.9M458.8 188.7h1.4M460.9 218.4h1.4M439.2 252.9h1.4M387.7 290.4h1.1M480.1 154.6h1.1M296.9 299.8h1.1M363.4 231.1h1.4M402.3 221.4h1.4M453.7 111.9h1.4M350.0 249.1h1.4M458.9 106.1h0.9M460.5 86.6h1.4M329.4 309.3h1.1M438.7 257.7h0.9M202.5 399.6h0.9M254.8 302.3h0.7M276.7 303.3h0.9M275.3 337.6h1.4M410.5 228.3h0.7M433.7 280.4h1.4M279.4 305.2h0.7M464.4 237.7h0.9M411.6 257.9h0.9M434.8 271.1h0.9M302.6 291.0h0.7M435.0 237.5h1.4M298.1 300.8h1.1M327.3 345.7h1.4M198.6 366.5h1.1M362.5 221.1h1.1M419.3 279.6h0.7M174.5 349.8h1.1M491.3 144.5h1.1M258.2 283.4h0.7M466.2 235.9h1.4M367.7 229.3h1.1M470.2 210.8h0.9M164.9 364.5h0.9M353.5 303.1h1.1M327.6 315.9h0.7M170.5 368.9h0.7M199.3 412.6h1.1M291.2 336.5h1.1M180.4 411.5h1.4M222.3 358.8h0.7M496.4 129.2h1.1M470.8 235.7h1.1M207.5 390.2h0.7M253.8 293.2h1.1M341.6 318.3h1.1M428.9 206.0h1.1M414.8 213.0h1.1M390.4 273.8h1.4M227.0 329.6h0.9M421.5 245.2h1.1M466.3 108.6h1.4M446.7 161.0h0.9M475.4 174.4h1.1M438.8 193.1h0.7M193.9 412.9h0.9M164.3 366.1h0.7M341.4 303.4h1.1M415.0 251.0h1.4M451.7 169.6h0.7M429.9 234.4h0.7M352.8 247.9h0.9M277.4 302.8h0.9M324.4 296.6h0.9M185.3 384.7h0.9M460.2 122.5h0.9M408.1 233.7h1.4M230.7 333.2h0.7M350.2 273.9h1.4M187.4 420.1h0.7M217.3 358.6h0.9M352.2 286.7h0.7M391.5 267.2h0.9M442.2 229.5h0.7M337.1 310.7h0.7M455.4 97.5h1.1M198.6 397.1h0.7M268.3 345.1h0.9M447.2 176.1h1.1M497.6 119.6h0.7M384.0 259.2h1.4M407.1 219.6h0.7M381.6 278.7h0.7M248.4 344.7h0.9M474.0 154.3h1.4M184.1 405.0h1.1M485.6 71.1h0.9M457.1 149.1h1.4M477.5 217.6h0.7M417.9 268.3h1.4M211.4 379.9h0.9M403.3 235.7h1.1M385.1 250.4h0.7M410.6 226.3h0.7M452.1 172.6h1.1M273.5 307.4h0.7M205.7 360.3h1.4M265.6 338.7h0.9M360.8 227.4h1.4M258.1 305.4h0.7M340.9 311.5h1.1M473.1 271.0h0.9M494.3 155.3h0.7M470.3 232.2h1.1M233.7 332.0h1.1M382.7 233.7h1.4M381.2 294.8h0.9M255.0 336.6h1.1M462.5 181.6h1.4M435.8 227.3h1.4M254.7 296.7h1.4M407.9 255.8h0.7M240.9 307.4h0.9M403.9 257.9h1.1M314.1 295.6h1.1M197.9 377.5h0.9M202.1 318.1h0.7M391.3 256.1h0.7M183.0 408.9h1.4M317.5 324.9h0.9M258.6 288.6h1.4M297.8 295.3h0.9M371.4 244.2h0.7M464.6 272.1h0.7M494.1 144.0h0.9M194.9 398.3h0.7M316.2 270.6h0.7M408.3 218.8h0.7M335.5 335.6h0.7M330.1 307.3h0.9M169.5 346.3h1.1M475.2 121.2h0.9M213.0 382.8h0.7M175.1 354.8h1.4M271.0 343.6h0.9M462.9 191.9h1.4M461.2 271.9h0.7M165.0 350.2h1.4M277.6 293.1h1.4M397.1 291.8h1.4M434.8 278.3h0.9M289.4 285.4h1.1M174.2 359.8h0.7M481.9 93.1h0.9M405.0 293.1h0.7M488.8 133.3h0.7M340.9 311.9h0.7M431.9 262.5h0.7M437.3 213.2h0.9M264.6 340.3h1.1M438.4 184.6h1.4M332.7 320.9h0.7M181.4 347.5h0.7M368.2 221.1h1.1M450.4 170.7h0.7M478.5 141.8h1.1M377.1 257.2h1.4M384.9 237.9h0.9M482.4 119.4h0.7M469.0 196.0h0.7M252.3 292.9h1.1M405.3 277.0h1.4M192.5 369.6h0.7M214.5 367.9h0.7M200.6 402.5h0.7M270.8 343.1h0.9M483.0 133.3h1.1M391.1 243.4h1.4M443.2 235.2h0.9M448.8 210.5h1.1M192.1 358.9h0.7M333.8 277.6h0.9M304.7 281.2h0.7M431.2 251.4h0.9M345.3 261.3h1.1M294.7 322.2h1.1M323.7 330.5h0.9M405.3 228.4h0.7M393.4 295.0h0.7M457.0 182.7h0.9M470.7 218.1h0.9M204.8 350.2h0.7M358.6 271.9h0.9M382.0 282.7h1.4M191.8 425.0h0.9M378.1 252.3h1.1M246.9 347.2h1.4M388.8 230.9h0.9M402.7 251.0h0.9M366.7 266.9h1.1M388.5 306.0h1.4M212.0 320.7h0.9M449.5 198.7h0.7M393.3 243.9h1.4M438.3 260.4h0.7M243.1 298.5h0.9M457.0 242.6h0.9M213.8 366.3h0.7M397.9 257.1h0.9M201.7 318.7h1.4M324.5 291.0h1.1M486.0 117.8h0.9M499.4 137.6h0.9M464.0 172.0h0.9M348.8 282.6h0.9M406.8 221.6h0.7M472.9 177.6h1.4M426.3 270.9h1.4M422.5 212.3h1.4M360.6 256.4h1.4M248.8 366.3h1.4M306.3 295.2h0.9M287.5 326.5h0.9M291.5 339.5h1.1M482.8 116.8h1.4M473.1 148.1h0.7M259.0 276.9h0.7M186.8 356.1h1.4M445.6 214.2h1.1M379.8 248.4h0.7M438.4 243.4h0.9M449.7 167.8h1.1M471.3 161.3h0.9M242.6 361.3h0.9M196.1 359.7h0.7M316.5 324.0h0.7M258.1 356.4h0.9M321.2 300.3h1.4M355.0 250.7h0.9M470.5 128.1h0.9M205.7 325.3h0.9M308.6 293.6h0.7M183.8 409.8h1.4M359.5 246.5h0.9M425.3 278.6h1.4M218.9 322.1h1.1M442.5 269.7h1.1M489.5 156.3h1.1M499.8 124.6h0.7M272.2 293.2h1.4M292.2 298.9h0.7M266.3 284.5h1.4M360.9 274.8h0.7M387.1 244.3h1.4M438.1 281.3h0.7M413.4 233.8h1.1M472.2 151.6h1.4M424.0 288.1h1.1M447.3 207.8h0.7M378.4 274.7h0.9M374.4 236.9h0.7M465.5 82.1h0.9M403.7 255.7h1.1M457.2 230.0h0.9M193.5 388.3h0.9M262.9 312.9h0.9M455.6 269.7h1.1M440.1 283.8h0.9M198.7 378.0h0.9M251.5 345.5h1.4M440.3 259.9h1.4M466.8 119.9h0.7M477.2 208.5h0.9M238.9 305.5h1.4M361.6 221.2h1.1M432.4 256.7h0.9M465.6 84.8h1.4M251.6 333.5h0.9M217.5 384.0h1.4M259.3 290.3h0.7M200.0 400.8h0.7M445.0 198.5h0.9M355.3 294.1h0.9M235.1 348.7h1.4M474.1 211.5h0.7M445.2 171.7h0.7M460.0 209.1h1.1M441.3 265.3h1.4M233.6 320.6h1.1M481.4 90.7h0.7M362.1 316.2h1.1M383.5 281.3h0.9M243.2 306.3h0.9M275.5 329.9h0.9M192.0 338.0h0.9M423.6 213.0h1.4M487.8 164.8h1.1M450.9 174.3h0.7M181.2 402.1h1.4M434.9 267.9h1.4M377.3 251.3h0.9M460.0 106.8h0.9M217.8 329.0h0.7M482.4 160.1h0.7M429.9 209.5h0.9M191.5 403.1h1.1M506.0 139.6h0.7M420.2 294.2h0.9M349.7 280.3h1.4M386.2 277.8h1.4M234.7 307.6h1.4M241.7 318.3h1.4M217.0 358.9h1.1M174.7 359.3h1.4M361.5 222.6h0.9M215.4 326.4h1.1M487.0 124.8h1.1M453.5 225.7h1.1M260.2 288.8h1.1M249.2 349.5h0.9M361.5 224.3h0.9M444.7 172.8h1.4M447.5 298.5h0.9M468.7 193.0h1.4M334.6 281.0h0.9M395.3 261.0h0.7M353.7 303.5h0.7M461.7 88.9h1.4M426.1 207.1h1.1M431.7 264.6h0.7M456.8 284.0h1.1M376.6 303.1h1.1M214.7 383.4h0.7M198.9 411.8h1.4M471.8 233.3h0.7M206.8 390.0h0.9M340.5 284.2h1.4M425.5 258.2h0.7M354.3 285.5h0.9M465.0 179.2h1.4M314.5 301.5h0.7M334.8 335.9h0.7M423.6 265.5h1.1M239.7 311.6h1.4M235.3 348.2h0.9M203.7 375.2h1.4M482.7 72.9h1.4M439.8 255.8h0.7M404.0 264.2h0.9M448.1 207.2h0.7M451.8 266.7h1.4M358.8 256.2h1.1M504.9 140.4h1.4M258.2 309.3h1.4M407.1 234.3h1.4M458.5 208.5h0.7M317.8 288.0h0.9M379.1 247.6h0.7M275.7 281.1h0.7M342.0 317.6h1.1M185.3 414.5h1.4M214.3 324.7h1.1M445.1 235.5h1.1M455.6 133.7h0.7M170.7 355.3h1.4M454.8 169.5h0.9M242.0 358.8h0.9M436.3 234.3h0.9M480.5 98.9h0.9M423.0 234.9h1.4M461.4 243.6h1.4M450.3 182.5h0.7M418.1 293.3h1.4M458.2 213.0h0.9M278.8 289.4h1.1M317.2 271.3h1.4M448.5 251.0h0.9M397.1 284.8h1.4M340.6 294.6h0.7M179.6 337.7h0.9M274.5 306.1h1.4M503.1 136.2h1.4M415.4 272.1h1.4M461.0 92.4h0.7M224.1 327.1h0.9M389.2 274.6h1.1M454.3 119.6h0.9M265.0 288.7h0.9M376.2 289.5h1.4M341.0 303.4h0.9M475.8 88.1h0.7M380.5 295.7h0.9M284.7 330.3h1.4M433.0 212.8h1.1M245.0 307.6h1.4M450.3 170.5h1.4M265.0 334.7h1.4M476.0 143.2h1.1M308.1 273.0h0.7M381.1 280.0h0.9M192.2 389.3h1.1M478.4 106.8h0.9M329.0 282.8h0.9M333.2 285.5h0.7M359.7 230.3h1.4M433.3 187.5h1.1M184.2 337.7h1.4M364.2 265.7h0.7M194.8 353.0h1.4M494.3 150.0h1.4M190.1 353.4h0.9M352.4 285.1h0.7M366.9 216.5h0.7M320.4 323.8h0.7M462.9 156.6h1.4M445.4 232.9h0.7M395.1 276.6h0.7M459.0 172.0h1.4M374.5 248.4h1.4M424.5 237.0h0.7M246.2 345.6h1.1M319.5 305.3h1.1M456.6 270.2h1.4M457.9 164.7h0.7M384.4 283.8h1.1M256.2 360.6h0.9M466.7 85.8h1.1M272.3 283.4h0.9M485.3 79.5h0.9M303.1 285.1h1.1M472.3 180.8h0.7M433.3 266.0h0.7M409.3 245.1h0.7M341.8 293.3h1.4M349.1 301.9h1.4M457.7 245.9h0.7M421.9 221.0h1.4M334.9 320.4h1.1M480.7 139.5h0.7M251.1 307.8h1.4M277.5 287.9h1.4M450.4 231.4h1.1M425.6 261.2h0.7M455.5 236.0h1.1M475.5 175.1h1.1M458.3 131.0h1.1M193.9 382.0h1.1M450.1 117.7h1.1M399.1 264.0h1.4M452.7 200.0h0.7M387.6 253.2h0.7M435.6 276.9h1.4M228.9 319.6h0.9M330.2 277.0h0.9M438.8 228.2h1.4M451.9 289.8h0.9M467.6 143.3h0.9M284.7 341.9h1.4M279.6 331.5h0.7M461.8 127.8h1.4M440.6 237.6h1.4M335.1 328.9h1.4M484.9 94.0h1.1M205.1 375.0h0.9M337.2 299.7h0.7M439.5 224.8h0.9M464.1 267.1h0.7M451.8 119.6h1.1M190.1 348.6h0.7M211.6 399.4h0.9M353.4 254.9h0.9M494.1 156.9h0.9M258.2 338.2h0.7M203.8 361.6h1.1M472.1 194.5h0.7M328.2 308.2h1.1M441.0 267.0h0.9M458.2 144.3h1.1M439.8 222.3h0.9M198.2 388.9h0.9M273.8 334.5h1.1M420.7 273.0h0.7M165.4 357.6h0.9M398.8 290.0h0.7M271.0 289.3h0.9M362.6 242.1h1.1M333.0 275.9h0.7M440.3 213.7h1.1M280.4 341.5h1.4M212.7 400.4h0.7" stroke="#111" stroke-width="0.75" fill="none" opacity="0.8"/>
<path d="M332.5 342.6L333.4 345.3L335.6 347.1M205.8 328.5L209.0 329.3L212.3 328.5M383.9 250.8L384.3 247.4L381.7 245.0M359.1 281.1L359.9 283.2L359.8 285.4M477.5 93.0L477.8 91.0L478.6 89.1M462.2 88.5L457.9 88.3L454.5 91.1M197.6 359.2L199.8 361.1L201.8 363.2M332.1 338.8L333.7 334.9L334.4 330.8M276.8 333.1L281.3 333.7L284.9 330.8M498.8 153.6L500.8 149.2L504.3 145.7M212.5 392.8L209.5 396.3L206.1 399.5M406.0 225.9L406.2 229.6L407.7 233.0M434.1 239.6L434.5 234.9L436.0 230.3M400.2 263.1L402.5 265.5L405.9 265.4M407.4 275.4L404.2 275.6L402.6 278.5M453.7 103.5L454.0 105.5L454.4 107.5M421.1 252.1L423.4 256.1L428.0 256.7M245.9 352.7L243.5 356.8L245.4 361.2M455.3 97.8L453.2 93.7L455.3 89.5M414.6 272.8L416.6 274.8L419.4 274.7M502.1 136.5L502.0 139.0L501.3 141.5M364.2 251.8L364.7 248.2L363.9 244.7M358.7 280.4L363.0 279.7L366.9 277.6M187.3 401.0L191.6 402.8L193.1 407.4M444.1 221.6L441.0 222.6L438.2 224.4M200.5 397.4L197.9 398.5L195.7 400.2M349.6 253.5L350.1 257.1L353.4 258.6M386.1 248.0L381.7 247.0L377.8 244.7M479.5 103.1L480.8 100.4L483.6 99.6M421.9 204.6L417.6 204.0L414.4 206.9M344.1 270.2L343.5 267.2L343.5 264.2M291.3 301.4L294.1 305.4L296.9 309.5M413.0 212.6L416.1 213.1L419.1 214.1M361.3 229.9L364.0 230.3L366.8 229.9M353.3 314.6L349.1 314.1L345.1 312.6M324.2 340.9L327.0 339.7L329.9 340.6M232.8 300.5L237.3 300.7L241.7 300.4M399.2 292.0L401.8 293.0L402.8 295.6M252.2 309.5L253.9 308.1L253.6 305.9M280.9 329.1L285.7 328.1L290.3 326.3M468.6 111.8L471.0 115.9L471.6 120.6M457.8 208.2L453.9 210.3L450.0 208.3M392.2 240.6L396.0 243.1L398.1 247.1M439.4 242.9L436.0 243.5L432.7 242.4M429.5 199.0L428.0 196.2L429.0 193.2M306.0 283.7L309.6 284.5L311.3 287.7M421.1 215.8L424.5 218.9L424.8 223.5M477.0 125.6L477.4 122.5L478.4 119.6M258.3 310.8L255.3 314.0L252.4 317.2M470.6 202.8L473.7 202.5L476.7 203.7M449.5 194.2L446.7 195.7L444.6 198.0M434.6 267.0L432.8 264.7L432.4 261.9M464.7 201.3L462.0 201.3L459.7 202.6M311.0 296.9L311.8 298.7L313.1 300.3M279.9 334.7L279.9 331.5L277.3 329.7M453.4 264.1L449.9 262.1L446.5 259.8M454.0 174.9L454.0 177.0L455.5 178.5M488.3 123.6L487.6 126.6L486.0 129.3M277.4 307.8L278.6 309.6L279.6 311.5M421.1 295.9L418.1 294.1L415.7 291.4M451.2 171.4L447.9 173.6L444.1 172.3M434.9 205.7L432.4 206.4L430.0 207.3M454.2 171.5L452.0 171.7L450.0 171.1M464.1 178.9L460.5 178.0L456.8 177.6M442.4 225.8L444.9 229.6L446.9 233.7M465.3 179.8L469.7 181.9L474.3 180.1M203.0 326.6L206.9 324.0L211.6 324.5M455.5 200.5L455.5 202.6L456.6 204.4M200.6 403.9L199.5 406.7L196.5 407.5M473.7 87.8L474.6 84.1L473.9 80.4M450.3 218.8L454.0 218.4L456.6 221.0M414.2 218.5L415.6 221.5L416.3 224.7M487.4 163.2L483.9 163.5L481.4 161.0M410.4 270.6L414.8 269.0L419.4 269.7M229.4 300.8L232.3 303.4L235.9 305.0M474.6 76.9L477.5 79.6L481.5 80.1M209.5 396.1L213.5 396.0L215.8 399.3M438.4 235.1L440.6 230.8L444.2 227.6M375.8 263.2L373.9 261.5L371.9 259.9M451.0 288.7L451.1 291.7L449.1 294.0M453.1 228.4L452.3 231.6L454.3 234.3M179.3 366.6L179.4 364.1L178.6 361.6M337.6 338.5L333.0 338.3L330.7 334.4M196.9 392.7L199.0 393.4L199.5 395.5M452.6 95.5L450.1 93.8L448.9 91.1M402.3 268.5L402.2 263.7L399.7 259.5M355.1 289.5L351.6 292.1L347.9 294.5M207.6 374.4L210.1 377.3L213.2 379.4M185.7 389.7L183.9 386.4L181.5 383.5M407.6 223.8L406.6 219.3L402.6 217.0M219.6 361.2L217.4 362.7L217.4 365.4M304.3 281.9L306.2 282.6L308.2 282.4M299.9 322.2L299.3 325.2L298.6 328.2M419.2 246.7L422.1 247.7L424.7 249.2M215.8 383.7L220.1 385.6L224.5 383.8M349.4 261.7L346.2 263.8L342.4 263.0M398.4 270.2L400.6 268.9L402.2 267.0M408.5 240.9L406.5 241.7L405.2 243.3M419.3 230.1L422.6 227.1L426.0 224.3M475.1 97.4L471.7 95.7L467.8 95.8M458.1 157.1L455.2 156.5L452.3 155.6M462.1 195.9L461.0 193.6L460.1 191.2M353.9 288.8L356.8 292.3L358.6 296.4M424.7 255.1L422.6 259.6L418.4 262.3M364.1 232.4L364.8 230.5L365.0 228.4M277.5 284.6L280.1 282.7L280.6 279.5M230.0 298.9L226.8 295.1L221.9 294.8M249.1 335.6L250.8 331.5L248.5 327.8M377.6 283.5L373.6 285.5L369.5 287.2M396.0 257.7L395.0 259.4L393.4 260.7M338.8 327.5L342.5 330.7L344.3 335.2M464.2 128.3L463.6 125.2L464.2 122.1M318.1 324.6L320.8 328.4L324.7 331.1M469.5 113.7L472.2 116.3L475.8 117.3M447.9 247.8L447.3 249.9L446.0 251.6M389.7 294.0L386.3 293.8L384.3 291.1M448.7 146.6L448.3 143.8L447.3 141.1M482.9 118.9L486.2 119.4L488.9 121.4M465.9 169.8L461.3 171.4L457.5 174.6M344.3 299.9L342.3 303.3L340.9 306.9M449.2 266.0L448.6 262.3L449.5 258.7M459.3 211.0L457.4 213.7L454.5 215.2M316.2 326.4L320.5 326.2L324.7 326.0M417.2 242.8L414.3 241.2L413.7 238.0M251.6 280.4L251.9 278.3L253.4 276.9M282.4 278.1L284.7 281.2L286.1 284.8M235.1 306.6L238.3 310.3L241.1 314.4M227.3 331.0L224.9 328.9L223.5 326.1M477.4 220.6L481.9 218.4L485.5 214.9M296.8 322.7L296.7 326.2L298.4 329.1M479.3 145.4L481.6 146.2L483.5 147.6M368.9 214.4L371.6 217.7L375.8 218.8M424.5 220.2L427.1 224.0L431.6 225.2M463.5 165.5L467.2 162.8L471.5 163.8M450.1 175.2L450.2 177.3L450.1 179.3M243.2 294.2L245.3 298.0L244.2 302.2M317.5 274.8L316.2 278.4L314.6 281.8M346.7 279.5L343.4 276.2L340.9 272.3M456.6 269.4L459.0 272.1L459.6 275.6M467.6 165.6L466.3 162.1L463.6 159.5M478.3 154.6L477.5 157.0L475.8 158.9M166.4 363.0L168.0 361.3L168.4 359.1M182.7 395.0L186.3 396.3L187.3 400.0M475.3 161.5L475.9 156.8L473.9 152.5M290.9 345.1L286.7 343.0L282.2 341.4M439.1 271.0L438.4 272.9L439.3 274.7M465.7 196.3L467.8 196.4L469.8 196.6M372.8 259.8L373.7 264.2L370.7 267.6M267.8 284.7L272.5 283.2L277.3 282.4M271.8 300.6L271.3 296.6L272.2 292.6M288.5 325.0L286.9 327.1L287.3 329.8M191.3 339.7L187.6 340.8L184.1 342.5M485.1 78.8L482.3 80.6L479.1 81.3M246.9 289.5L248.7 288.1L249.6 286.0M298.8 285.6L298.5 281.6L297.6 277.7M271.7 291.7L267.1 292.9L262.4 293.9M388.9 281.9L391.8 281.8L394.7 281.8M362.0 283.9L364.1 284.5L366.2 285.1M425.3 205.3L427.7 206.8L429.3 209.1M427.5 208.1L429.9 206.0L429.6 202.9M464.1 113.3L462.2 111.4L462.4 108.7M326.2 304.4L328.9 302.6L332.1 303.4M445.3 246.5L445.2 242.4L444.7 238.4M278.5 303.9L278.7 306.6L276.9 308.7M323.7 278.0L326.4 278.2L328.7 279.6M390.0 225.4L386.8 223.9L383.2 223.4M428.1 220.9L428.7 216.5L430.8 212.5M257.5 334.2L259.2 338.3L260.1 342.6M425.7 288.0L429.8 287.6L433.8 286.9M362.6 269.7L361.9 272.6L359.8 274.6M397.1 246.8L393.8 249.3L390.0 250.8M166.2 348.7L163.3 350.1L162.6 353.2M249.8 335.1L250.0 331.1L251.0 327.2M239.8 309.6L235.6 307.1L231.4 304.5M225.8 315.5L224.9 317.6L224.5 319.9M320.0 297.0L322.7 299.1L326.2 299.1M199.9 421.2L202.6 419.6L205.3 418.2M281.9 327.0L278.6 327.4L275.3 327.3M338.8 319.8L335.3 319.3L332.3 317.6M354.7 317.3L352.3 319.4L350.7 322.2M460.8 163.3L457.7 161.9L454.5 163.0M414.1 256.8L418.8 256.5L422.3 259.7M231.2 321.2L228.7 323.4L227.1 326.5M464.6 200.2L460.5 198.6L457.2 195.6M206.4 412.6L210.5 410.7L213.7 407.5M448.9 297.5L452.0 298.1L454.6 299.8M441.4 202.5L440.3 200.7L438.2 200.3M283.9 294.6L285.3 296.2L285.2 298.4M482.2 137.4L479.8 136.6L477.3 136.0M245.2 297.2L246.0 292.7L250.1 290.8M266.2 281.1L265.8 285.3L265.5 289.4M476.8 90.5L473.6 92.9L473.6 96.9M485.2 136.5L488.4 135.7L491.7 135.5M332.2 337.3L333.2 333.2L335.6 329.8M208.7 412.5L205.6 409.6L203.2 406.1M255.1 356.3L252.7 355.0L250.9 352.9M474.3 161.2L476.7 160.9L478.6 162.3M423.4 265.8L427.0 265.3L429.8 267.6M198.1 332.6L194.3 329.9L189.9 328.5M425.0 213.5L425.2 216.7L427.5 218.9M462.2 219.2L463.2 221.2L464.2 223.3M472.2 113.7L470.2 109.8L467.8 106.1M348.7 289.2L349.1 285.3L352.4 283.2M385.5 294.4L383.8 293.0L383.7 290.8M370.5 299.2L373.7 296.4L377.6 294.7M469.9 212.3L471.1 215.3L473.9 216.9M411.4 269.8L407.3 269.5L403.3 268.4M500.3 126.7L503.7 124.1L506.9 121.2M455.3 165.9L452.4 168.3L448.8 167.3M258.0 305.5L261.5 302.5L266.0 301.1M452.3 294.6L449.9 293.8L447.5 292.8M215.5 343.3L216.5 346.1L214.8 348.6M248.9 339.7L252.6 341.3L256.6 341.1M250.5 355.7L250.2 351.8L250.6 347.9M200.4 366.6L203.5 364.9L205.1 361.7M162.5 352.1L163.0 349.3L161.0 347.2M199.6 350.2L195.5 351.5L191.7 349.4M499.8 130.9L496.9 134.2L495.3 138.3M302.0 327.5L303.1 325.4L302.7 323.0M276.8 282.3L276.5 286.7L278.7 290.5M229.8 305.6L228.1 306.8L227.7 308.9M451.7 280.3L449.3 279.8L446.9 280.6M450.2 131.1L448.1 129.7L445.6 130.5M460.9 87.2L465.4 87.8L470.0 87.4M441.8 271.1L439.1 275.0L434.7 276.9M452.6 289.3L449.2 288.2L447.6 285.1M242.7 345.9L240.4 349.0L239.6 352.8M191.1 349.0L191.7 344.9L193.2 341.1M362.7 293.5L363.8 295.4L363.3 297.5M484.7 160.5L484.8 162.8L485.6 165.1M187.0 415.6L183.9 414.1L180.7 415.5M478.3 150.6L478.7 148.0L477.8 145.6M379.9 249.9L381.5 254.4L382.7 259.0M460.0 117.4L462.0 114.7L465.2 113.7M410.0 253.3L408.8 248.6L409.9 243.9M491.0 134.9L492.3 137.1L494.3 138.6M453.4 182.7L456.3 185.9L458.9 189.2M349.4 272.3L348.2 267.7L344.0 265.6M449.2 178.9L446.6 180.4L443.5 180.2M203.2 353.2L201.7 350.7L198.9 349.7M215.7 323.3L218.0 322.1L219.5 320.0M235.6 305.3L235.8 308.1L236.4 310.8M399.6 244.0L399.3 239.6L398.6 235.3M214.8 389.9L210.3 390.7L206.4 388.5M469.2 147.6L465.3 144.8L461.2 142.3M399.1 222.6L394.7 222.1L391.9 218.6M393.4 263.8L395.0 261.6L396.5 259.3M242.2 357.2L241.7 355.2L240.0 354.2M287.4 324.0L284.8 323.2L282.2 323.5M480.3 117.0L480.2 119.3L481.4 121.2M289.1 325.7L292.4 323.8L293.6 320.2M377.0 282.6L375.7 285.2L373.3 286.8M301.9 301.0L300.6 298.5L300.3 295.7M494.4 152.6L493.2 150.3L490.7 149.5M459.3 225.3L461.4 222.5L462.6 219.3M450.2 117.0L452.6 118.0L455.0 117.0M390.7 284.1L391.9 288.0L389.5 291.2M182.1 370.4L180.7 372.6L178.7 374.2M456.4 121.8L457.5 125.1L460.3 127.2M202.8 352.0L204.6 353.6L207.0 353.6" stroke="#223" stroke-width="0.4" fill="none" opacity="0.7"/>
</g>
<path d="M459.0 75.9 L462.0 78.4 L465.0 76.5 L467.4 79.0 L468.0 83.8 L468.5 90.4 L469.8 91.6 L472.3 91.0 L473.5 87.4 L474.7 84.4 L478.3 86.8 L481.9 88.0 L484.3 85.0 L484.9 79.0 L484.3 74.1 L481.3 75.9 L477.1 77.8 L473.5 79.0 L471.3 78.4 L471.6 74.1 L473.5 69.3 L475.3 65.1 L480.7 68.1 L482.5 71.7 L485.5 71.1 L489.8 69.3 L489.2 74.1 L488.6 80.2 L488.0 86.2 L489.2 92.3 L491.6 98.3 L495.2 103.1 L498.8 108.0 L501.9 114.0 L503.7 120.0 L505.5 126.1 L507.4 137.2 L505.6 144.4 L503.8 151.7 L499.3 157.1 L494.7 164.4 L492.0 169.8 L493.8 177.1 L492.9 182.5 L489.3 181.6 L484.8 178.0 L480.2 179.8 L476.6 184.3 L474.8 191.6 L476.6 198.8 L478.4 206.1 L479.3 215.1 L478.4 222.4 L476.9 228.0 L474.2 232.0 L470.6 236.3 L467.9 245.3 L467.0 254.4 L469.7 261.6 L472.4 268.0 L474.2 271.6 L469.2 271.5 L465.0 275.2 L461.2 281.5 L461.8 285.8 L459.7 290.0 L455.5 295.3 L449.1 298.6 L444.9 298.4 L443.8 293.2 L445.2 288.8 L447.0 283.4 L450.0 279.5 L451.4 275.2 L448.0 273.8 L444.7 276.0 L442.1 279.3 L440.1 282.6 L440.8 286.5 L440.1 290.5 L438.8 286.5 L436.2 285.9 L431.0 285.9 L427.7 287.8 L425.7 291.8 L424.4 295.7 L425.0 301.0 L423.1 305.6 L419.8 308.9 L417.2 307.6 L415.2 303.6 L415.8 298.4 L416.5 294.4 L415.2 291.1 L411.9 291.8 L408.6 294.4 L406.0 297.0 L403.4 301.0 L401.4 304.9 L400.1 308.9 L392.8 307.6 L386.3 306.9 L379.7 306.9 L373.1 307.6 L367.9 309.5 L366.0 310.8 L367.5 306.5 L371.0 305.0 L374.7 304.4 L376.6 303.1 L374.0 300.3 L370.0 299.5 L366.5 300.0 L364.5 302.5 L362.0 300.0 L361.0 296.0 L358.0 295.5 L356.3 296.5 L354.3 301.8 L353.0 307.0 L354.3 310.3 L358.2 313.0 L362.8 314.3 L364.4 317.6 L361.5 320.8 L356.3 321.5 L351.0 323.5 L345.6 327.3 L340.3 335.2 L336.2 343.1 L332.9 347.7 L328.3 346.3 L323.1 343.1 L319.1 337.8 L315.2 332.6 L312.6 328.6 L314.5 322.0 L318.0 320.5 L321.5 317.0 L323.0 312.0 L321.5 308.0 L318.0 306.3 L314.0 307.0 L310.5 309.0 L306.0 305.5 L300.0 304.3 L294.0 305.5 L290.5 308.0 L288.3 306.8 L284.0 309.0 L279.1 310.8 L272.6 313.4 L268.0 314.0 L263.4 314.7 L256.8 316.7 L251.0 318.5 L246.3 318.0 L241.0 318.5 L237.0 317.3 L234.5 321.3 L233.5 325.3 L234.4 330.7 L232.6 334.3 L227.1 332.5 L221.7 329.8 L216.3 328.9 L207.2 328.9 L199.9 329.8 L197.2 325.3 L195.4 319.8 L198.1 317.1 L203.6 316.2 L209.0 315.3 L212.6 311.7 L216.3 308.0 L221.7 304.4 L228.9 299.0 L234.4 294.4 L241.6 289.0 L244.4 283.6 L248.9 279.9 L257.9 276.3 L264.3 277.2 L270.6 279.0 L275.4 278.8 L282.7 277.0 L289.9 275.2 L297.2 273.4 L304.4 273.4 L310.8 272.5 L313.5 269.8 L318.0 270.7 L318.9 276.1 L322.6 277.0 L326.2 277.9 L331.6 276.1 L335.3 274.3 L339.8 271.6 L338.0 265.3 L338.9 259.8 L342.6 254.1 L347.9 248.9 L353.1 243.6 L357.1 237.0 L359.7 231.8 L358.4 226.5 L357.1 221.3 L358.4 216.7 L362.3 214.1 L367.6 212.1 L372.2 209.5 L375.5 208.8 L376.8 211.4 L374.2 213.4 L372.8 216.0 L369.6 218.0 L368.2 221.3 L368.9 226.5 L367.6 231.8 L368.2 234.4 L372.8 235.1 L377.4 232.4 L379.4 229.8 L386.0 226.5 L392.6 223.2 L399.1 221.3 L405.7 218.0 L410.9 213.4 L414.9 206.8 L417.5 200.3 L423.1 195.2 L430.4 191.6 L433.1 186.1 L435.8 178.9 L439.4 171.6 L443.1 164.4 L445.8 155.3 L448.5 146.3 L450.3 137.2 L450.5 133.3 L449.3 128.5 L446.9 124.3 L443.3 125.5 L441.4 121.3 L447.5 120.0 L448.7 115.2 L449.9 109.2 L448.1 103.1 L446.3 98.9 L449.3 95.3 L454.1 92.9 L457.1 91.0 L458.4 85.0 L457.8 80.2 Z M300.7 322.0 L303.4 329.9 L301.4 333.9 L305.3 334.5 L299.4 337.8 L294.2 341.8 L290.2 347.0 L287.6 354.9 L284.3 351.0 L281.0 347.0 L275.8 344.4 L270.5 344.4 L265.3 347.0 L262.0 351.0 L262.3 358.0 L258.5 364.0 L254.3 370.6 L248.9 369.7 L243.4 368.8 L241.6 365.1 L239.8 359.7 L238.0 354.3 L240.7 350.6 L239.0 348.5 L234.0 349.6 L227.1 351.2 L233.5 348.0 L239.5 346.0 L241.6 345.2 L243.4 339.8 L248.9 334.3 L256.1 330.7 L258.1 331.8 L263.4 333.1 L268.0 332.3 L272.6 329.2 L275.2 325.2 L281.8 322.6 L288.9 319.4 L294.2 320.7 Z M157.1 351.3 L158.4 348.7 L162.3 346.7 L166.3 346.0 L168.2 343.4 L171.5 344.7 L175.5 342.1 L179.4 337.5 L183.4 334.2 L188.6 332.9 L193.9 331.6 L197.8 330.9 L199.1 335.5 L200.4 339.5 L204.4 343.4 L209.6 344.1 L213.6 341.4 L217.5 341.4 L219.5 344.7 L218.8 348.7 L215.5 351.3 L218.8 353.2 L224.1 355.9 L226.7 360.5 L227.4 365.7 L225.4 371.0 L221.6 377.9 L219.0 383.1 L217.0 389.7 L215.2 393.5 L213.7 398.0 L213.1 401.9 L212.8 406.0 L212.6 409.3 L211.5 413.0 L209.9 415.7 L205.2 416.7 L202.0 418.3 L201.5 420.4 L197.8 423.6 L193.6 426.8 L190.4 428.4 L190.9 425.2 L193.0 421.0 L194.4 418.0 L192.0 415.5 L190.3 413.5 L190.8 410.5 L193.2 409.0 L193.5 405.5 L190.0 404.5 L187.0 407.0 L186.3 412.0 L187.3 417.0 L188.8 421.0 L186.8 421.9 L182.8 420.6 L178.2 419.9 L175.6 416.0 L175.0 413.4 L178.2 409.4 L178.9 404.2 L177.6 400.2 L178.2 396.3 L176.3 393.7 L178.0 390.0 L180.5 386.5 L183.5 383.0 L186.5 379.5 L188.5 376.0 L190.5 372.0 L193.9 370.3 L190.6 369.0 L187.3 367.0 L184.0 364.4 L181.4 360.5 L182.7 356.5 L185.3 354.6 L188.6 355.2 L189.9 351.3 L187.3 348.0 L184.0 348.7 L181.0 351.0 L178.0 354.0 L176.5 357.5 L176.0 361.0 L177.5 364.5 L180.5 366.0 L183.0 368.5 L182.5 372.5 L180.0 374.6 L177.5 371.0 L176.5 367.2 L174.5 367.8 L171.5 369.0 L169.5 371.5 L167.5 375.5 L165.3 377.2 L165.6 373.0 L165.0 369.0 L163.1 364.9 L161.0 361.7 L162.0 358.6 L159.9 355.4 L157.8 352.2 Z M171.0 388.4 L171.7 383.1 L173.0 379.2 L176.3 377.9 L178.9 381.8 L179.6 385.8 L177.5 389.0 L175.0 389.7 Z" fill="none" stroke="#111" stroke-width="1.3" stroke-linejoin="round"/>
<path d="M408.1 180.9 L409.0 182.1 L408.1 185.7 L406.6 189.3 L408.7 190.2 L410.5 189.6 L409.9 193.0 L408.1 196.0 L405.1 198.4 L401.5 199.9 L399.7 199.3 L401.5 197.2 L403.9 194.2 L402.1 193.3 L400.4 193.0 L400.9 189.9 L402.7 186.3 L405.4 183.3 Z" fill="#7699dc" stroke="#111" stroke-width="1.0" stroke-linejoin="round"/>
<path d="M402.5 193.2 L406.5 190.2" stroke="#fff" stroke-width="0.9"/>
<ellipse cx="195.8" cy="210.5" rx="1.9" ry="1.4" fill="#fff" stroke="#111" stroke-width="0.7" transform="rotate(-20 195.8 210.5)"/>
<path d="M261.0 252.2 L264.0 250.6 L267.0 252.0 L267.2 254.8 L264.5 256.5 L261.5 255.6 Z" fill="#7d9fdc" stroke="#111" stroke-width="1.1" stroke-linejoin="round"/>
<path d="M254.0 258.5 L256.5 257.0 L259.0 258.0 L258.0 261.0 L255.0 262.2 L253.2 260.5 Z" fill="#334" stroke="#111" stroke-width="1.2" stroke-linejoin="round"/>
<path d="M109.8 189 L112.5 188.3 L115.2 188" stroke="#111" stroke-width="1.1" fill="none"/>
<path d="M433.2 40.0 L436.0 38.5 L437.7 39.5 L436.5 43.0 L434.5 45.8 L433.0 44.0 Z" fill="#fff" stroke="#111" stroke-width="0.7" stroke-linejoin="round"/>
<ellipse cx="486.6" cy="19.9" rx="2.2" ry="1.4" fill="#fff" stroke="#111" stroke-width="0.7" transform="rotate(-25 486.6 19.9)"/>
<ellipse cx="473.6" cy="25.8" rx="1.2" ry="1.2" fill="#fff" stroke="#111" stroke-width="0.8" transform="rotate(0 473.6 25.8)"/>
<circle cx="432.3" cy="66.3" r="0.9" fill="#111"/>
<circle cx="444" cy="71.7" r="0.8" fill="#111"/>
<circle cx="437.6" cy="149.9" r="0.9" fill="#111"/>
<circle cx="428.6" cy="176.2" r="0.9" fill="#111"/>
<ellipse cx="474.4" cy="104.7" rx="1.5" ry="1.5" fill="#456" stroke="#111" stroke-width="0.9" transform="rotate(0 474.4 104.7)"/>
<ellipse cx="468.6" cy="131.5" rx="1.3" ry="1.3" fill="#456" stroke="#111" stroke-width="0.9" transform="rotate(0 468.6 131.5)"/>
<path d="M156.3 305.8 L157.6 307.5 L156.5 311.0 L154.8 315.0 L153.6 319.0 L152.3 323.0 L150.2 326.3 L148.6 325.0 L149.5 321.0 L151.0 316.5 L152.5 312.0 L154.0 308.0 Z" fill="#f46f76" stroke="#111" stroke-width="1.5" stroke-linejoin="round"/>
<path d="M155.8 308 L154.2 313" stroke="#7aa6dc" stroke-width="1.6"/>
<path d="M152 318.5 L150.8 322" stroke="#222" stroke-width="2"/>
<path d="M163.2 334.6 L165.6 338.6 L161.4 338.8 Z" fill="#c88" stroke="#111" stroke-width="1.3" stroke-linejoin="round"/>
<circle cx="203.1" cy="303.4" r="0.9" fill="#111"/>
<circle cx="96.2" cy="328.8" r="0.9" fill="#111"/>
<circle cx="174.6" cy="322" r="0.7" fill="#111"/>
<circle cx="125.9" cy="394.7" r="0.8" fill="#111"/>
<path d="M147.7 353.8 L146.8 357.5 L145.6 361.5 L143.2 365.3 L140.6 368.3 L138.3 370.8" stroke="#111" stroke-width="1.9" fill="none" stroke-linejoin="round"/>
<path d="M146.3 359 L144.6 363" stroke="#e0707a" stroke-width="0.8" fill="none"/>
<path d="M133.3 372.6 L135.0 370.4 L137.6 370.2 L139.2 372.0 L138.6 374.9 L136.0 376.2 L133.6 375.4 Z" fill="#f46f76" stroke="#111" stroke-width="1.5" stroke-linejoin="round"/>
<circle cx="144" cy="358" r="1.0" fill="#111"/>
<circle cx="150" cy="364" r="0.8" fill="#111"/>
<circle cx="152.5" cy="359" r="0.7" fill="#111"/>
<circle cx="141.5" cy="364.5" r="0.9" fill="#111"/>
<circle cx="148" cy="366" r="0.7" fill="#111"/>
<circle cx="139.5" cy="355.5" r="0.6" fill="#111"/>
<circle cx="141.5" cy="354.5" r="0.6" fill="#111"/>
<path d="M166.5 361.5 L168.5 360.3 L170.5 362.0 L170.8 365.0 L169.0 366.8 L167.0 365.5 Z" fill="#fff" stroke="#111" stroke-width="1.0" stroke-linejoin="round"/>
<path d="M157 346 l-2.5 3 l-1 4 M160 343 l2 -1.5 M165 342 l2 -1.5 M168 340 l1.5 -2 M172 341.5 l2 -1 M178 336 l1.5 -1.5" stroke="#111" stroke-width="1.4" fill="none"/>
<path d="M170.3 400.5 L167.5 402.5 L165.5 405 L163 408" stroke="#111" stroke-width="1.6" fill="none"/>
<circle cx="155.9" cy="422.3" r="0.9" fill="#111"/>
<circle cx="155.9" cy="433.5" r="0.9" fill="#111"/>
<circle cx="169.7" cy="434" r="0.9" fill="#111"/>
<circle cx="179.6" cy="435" r="0.9" fill="#111"/>
<circle cx="182.8" cy="434.6" r="0.9" fill="#111"/>
<circle cx="195.3" cy="436.4" r="0.9" fill="#111"/>
<circle cx="156" cy="422.6" r="0.9" fill="#111"/>
<circle cx="176.6" cy="445.7" r="0.9" fill="#111"/>
<path d="M200.4 434.2 L201.6 436.0 L201.0 440.0 L199.6 444.0 L198.0 448.0 L196.0 449.8 L195.3 447.5 L196.8 443.5 L198.3 439.5 L199.3 436.0 Z" fill="#f46f76" stroke="#111" stroke-width="0.8" stroke-linejoin="round"/>
<ellipse cx="185.6" cy="450" rx="4.3" ry="4.1" fill="#a5c6ea" stroke="#111" stroke-width="0.8" transform="rotate(0 185.6 450)"/>
<circle cx="158.6" cy="463.7" r="0.8" fill="#111"/>
<circle cx="168.9" cy="461.1" r="0.8" fill="#111"/>
<circle cx="168.1" cy="465.7" r="0.8" fill="#111"/>
<circle cx="158.6" cy="470.1" r="0.8" fill="#111"/>
<circle cx="163.8" cy="472.7" r="0.8" fill="#111"/>
<circle cx="160.4" cy="477.8" r="0.8" fill="#111"/>
<circle cx="149.6" cy="487.3" r="0.8" fill="#111"/>
<circle cx="153" cy="485.5" r="0.8" fill="#111"/>
<circle cx="143.2" cy="498.3" r="0.8" fill="#111"/>
<circle cx="165" cy="500.1" r="0.5" fill="#999"/>
<path d="M163.8 508.2 L164.3 510.0 L161.0 512.5 L158.0 514.5 L155.0 516.5 L152.5 519.5 L150.0 522.0 L147.6 522.7 L147.6 519.0 L149.5 515.5 L152.5 513.5 L156.0 511.8 L160.0 510.0 Z" fill="#f46f76" stroke="#111" stroke-width="1.0" stroke-linejoin="round"/>
<path d="M161 510.8 L155.5 514" stroke="#9bbfe6" stroke-width="1.5"/>
<path d="M152.5 515.5 L149 520.5" stroke="#111" stroke-width="3.2"/>
<path d="M169.5 514.8 L171.8 512.8" stroke="#111" stroke-width="1.2"/>
<path d="M141.3 527.4 L143.0 528.5 L143.4 531.5 L144.0 534.0 L142.0 534.5 L140.8 531.5 Z" fill="#f46f76" stroke="#111" stroke-width="0.8" stroke-linejoin="round"/>
<circle cx="122.7" cy="528.4" r="0.7" fill="#111"/>
<path d="M130.4 544.8 L133 543.5 L135.5 542.2" stroke="#111" stroke-width="1.3"/>
<circle cx="127.8" cy="553.6" r="0.8" fill="#111"/>
<path d="M115.7 552.3 L114.5 555 L113.9 557.4" stroke="#111" stroke-width="1.1"/>
<path d="M124.0 559.5 L125.5 562.5 L123.5 566.3 L120.5 568.5 L118.2 571.6 L114.4 574.6 L115.9 577.6 L112.9 579.1 L113.7 582.1 L109.1 583.7 L105.8 582.1 L106.9 578.4 L109.1 575.3 L107.6 573.1 L112.2 570.8 L110.7 565.5 L108.4 563.7 L114.4 564.3 L117.5 565.5 L120.5 562.5 L122.4 559.8 Z" fill="#fff" stroke="#111" stroke-width="1.0" stroke-linejoin="round"/>
<path d="M123.8 561.3 L121.5 565 L119 567.5" stroke="#9bbfe6" stroke-width="2.6" fill="none"/>
<path d="M118 569 L114.5 572.5 L111.2 575" stroke="#f46f76" stroke-width="2.4" fill="none"/>
<path d="M112 565.5 L116 567 M108.5 564.5 l2 .4" stroke="#e0606a" stroke-width="1.4" fill="none"/>
<path d="M109.8 563.8 l1.5 .5 M111.5 578 l2.5 -1.2 M108 579.5 l2 2 M111 581 l1.5 -2" stroke="#111" stroke-width="0.9" fill="none"/>
<circle cx="94.4" cy="567.7" r="0.8" fill="#111"/>
<circle cx="91.9" cy="574.9" r="0.8" fill="#111"/>
<circle cx="96.5" cy="580" r="1.6" fill="#111"/>
<circle cx="98.5" cy="579.2" r="1.1" fill="#111"/>
<circle cx="102.1" cy="581.8" r="0.8" fill="#111"/>
<circle cx="104.5" cy="578.5" r="0.6" fill="#111"/>
<circle cx="101" cy="584" r="0.6" fill="#111"/>
<ellipse cx="433.4" cy="304.9" rx="1.2" ry="1.6" fill="#9bbfe6" stroke="#111" stroke-width="0.7" transform="rotate(0 433.4 304.9)"/>
<path d="M430.2 312 L429.6 316 L428.9 319.5" stroke="#111" stroke-width="1.1" fill="none"/>
<circle cx="425.7" cy="322.9" r="0.8" fill="#111"/>
<circle cx="436.7" cy="327.2" r="1.4" fill="#733"/>
<circle cx="439" cy="334.2" r="1.0" fill="#522"/>
<path d="M441.3 358 L444 359 L446 361" stroke="#7a2a2a" stroke-width="2" fill="none"/>
<circle cx="443.7" cy="381.2" r="0.7" fill="#111"/>
<circle cx="446.2" cy="399.2" r="0.4" fill="#aaa"/>
<circle cx="458.6" cy="445.2" r="0.7" fill="#111"/>
<circle cx="460.5" cy="466" r="0.4" fill="#aaa"/>
<path d="M510.3 533 l.6 3 M510 549 l.8 3.5 M509.8 564 l1 3" stroke="#111" stroke-width="1.3" fill="none"/>
<circle cx="474" cy="547" r="0.4" fill="#aaa"/>
<path d="M98.9 306.9l0.5 -1.9l2.0 0.2l-0.1 2.0M93.3 317.3l2.0 0.5l-0.2 2.1l-2.1 -0.0M115.0 298.7l2.6 -0.1l0.5 2.5l-2.5 0.7M133.2 303.0l-1.8 1.5l-1.8 -1.5l1.4 -1.9M92.3 311.0l-0.3 2.2l-2.2 0.1l-0.3 -2.2M135.0 295.2l-1.8 0.6l-0.9 -1.7l1.6 -1.0M99.3 314.6l-0.8 -0.9l0.8 -0.9l1.0 0.7M100.4 302.8l-1.5 -1.8l1.6 -1.8l1.9 1.4M133.6 300.5l1.3 0.7l-0.4 1.4l-1.4 -0.3M93.3 309.4l-1.1 -0.8l0.6 -1.2l1.3 0.5M109.9 304.9l-2.5 0.3l-0.7 -2.4l2.4 -0.9M90.3 322.7l-0.4 -1.3l1.2 -0.6l0.7 1.2M123.2 299.3l-0.2 -1.3l1.2 -0.5l0.5 1.2M124.2 298.8l0.7 2.4l-2.2 1.1l-1.3 -2.1M98.4 301.9l1.3 1.4l-1.2 1.5l-1.6 -1.1M89.1 320.9l2.1 -0.5l0.8 1.9l-1.9 1.0M89.3 311.3l-0.2 -1.8l1.7 -0.5l0.6 1.7M92.4 308.1l1.8 -1.3l1.6 1.5l-1.4 1.7M108.8 313.0l1.7 -1.8l2.0 1.4l-1.2 2.1M124.9 302.4l-1.5 -1.2l0.9 -1.7l1.7 0.8M92.7 311.4l1.9 -1.8l2.1 1.6l-1.4 2.2M131.0 302.6l-1.9 -1.1l0.7 -2.1l2.1 0.6M92.9 315.3l-0.8 -0.6l0.5 -0.9l1.0 0.4M116.4 297.1l-2.1 0.0l-0.4 -2.1l2.0 -0.5M105.8 312.7l0.6 1.2l-1.0 0.8l-0.9 -1.0M107.3 312.3l-1.2 0.6l-0.8 -1.1l1.0 -0.8M122.4 300.1l-1.2 0.0l-0.2 -1.2l1.2 -0.3M114.6 298.6l-1.2 0.7l-0.9 -1.0l1.0 -0.9M124.9 306.3l0.8 -1.3l1.4 0.6l-0.5 1.4M137.0 297.3l1.2 0.4l-0.2 1.2l-1.2 -0.1M125.1 304.6l-1.1 -1.7l1.4 -1.4l1.5 1.3M128.4 296.0l0.8 1.6l-1.4 1.0l-1.1 -1.4M130.1 295.3l-0.8 1.2l-1.3 -0.6l0.5 -1.3M129.1 307.2l0.1 -2.0l2.0 -0.3l0.4 1.9M141.5 292.1l-0.4 -2.5l2.3 -0.8l1.0 2.3M95.7 304.9l1.7 -1.1l1.3 1.5l-1.4 1.4M110.2 308.9l0.7 -2.3l2.4 0.3l-0.1 2.4M126.4 296.2l0.9 -2.0l2.1 0.5l-0.4 2.1M135.2 295.1l0.4 -1.5l1.5 0.1l0.0 1.5M144.0 292.0l-1.3 -0.2l-0.0 -1.4l1.4 -0.1M125.7 307.3l-2.2 -0.9l0.5 -2.3l2.3 0.3M106.4 302.3l1.9 -1.4l1.7 1.6l-1.5 1.8M119.6 306.6l1.9 0.3l-0.0 2.0l-2.0 0.1M121.2 306.2l1.9 0.8l-0.5 2.0l-2.1 -0.4M119.8 303.5l2.2 -1.2l1.5 2.0l-1.9 1.7M103.9 305.6l-1.1 0.5l-0.7 -1.0l1.0 -0.7M116.1 300.1l-1.0 -0.9l0.7 -1.1l1.1 0.6M142.6 293.5l2.2 0.3l0.1 2.2l-2.2 0.2M128.5 300.3l-1.1 -1.1l0.9 -1.3l1.4 0.8M94.2 314.6l-1.2 -0.1l-0.1 -1.2l1.2 -0.2M119.3 304.3l-1.4 0.8l-1.1 -1.2l1.1 -1.1M100.1 311.1l-2.0 -0.4l0.0 -2.0l2.0 -0.1M140.4 293.7l-0.2 -1.4l1.3 -0.4l0.5 1.3M134.6 293.4l-0.7 -1.5l1.4 -0.9l1.0 1.3M120.5 307.0l1.2 1.5l-1.3 1.4l-1.5 -1.2M142.7 292.3l1.0 -0.3l0.5 1.0l-0.9 0.6M107.3 305.3l-1.7 0.8l-1.0 -1.5l1.4 -1.2M98.7 304.9l-1.8 1.2l-1.5 -1.6l1.5 -1.6M125.1 303.2l-2.0 -0.0l-0.3 -1.9l1.9 -0.4M133.1 303.2l1.9 0.9l-0.6 2.1l-2.1 -0.4M108.2 305.4l-0.6 0.8l-0.9 -0.5l0.4 -0.9M127.3 300.8l-1.9 -0.9l0.5 -2.0l2.0 0.4M119.5 302.6l-1.6 -2.0l1.7 -2.0l2.1 1.6M103.1 303.1l0.4 1.0l-0.9 0.5l-0.6 -0.9M120.5 306.8l-2.3 -1.1l0.6 -2.5l2.5 0.5M90.7 321.6l-1.2 0.2l-0.4 -1.2l1.1 -0.5M98.0 306.3l1.8 0.7l-0.4 1.9l-2.0 -0.2M109.6 299.0l-1.9 -0.8l0.4 -2.0l2.0 0.3M104.7 314.1l1.5 0.1l0.1 1.5l-1.5 0.2M97.2 315.4l1.3 -1.0l1.2 1.1l-1.0 1.3M132.2 290.8l2.4 -0.9l1.3 2.2l-2.1 1.4M92.3 320.7l-1.7 0.2l-0.5 -1.6l1.6 -0.6M130.6 305.4l1.0 -2.3l2.5 0.6l-0.4 2.5M124.8 304.9l1.3 0.4l-0.2 1.3l-1.3 -0.1M114.9 298.2l-1.7 0.9l-1.2 -1.5l1.4 -1.3M131.3 297.3l0.9 -0.7l0.9 0.8l-0.7 0.9M109.2 298.5l-1.9 -0.8l0.5 -2.0l2.1 0.3M132.4 295.6l1.4 -0.2l0.4 1.3l-1.3 0.5M104.0 303.9l1.6 1.2l-0.9 1.8l-1.8 -0.8M93.1 312.7l-1.3 -1.4l1.1 -1.5l1.6 1.0M110.0 305.7l-0.7 1.1l-1.2 -0.5l0.5 -1.3M133.4 296.5l-0.1 1.7l-1.7 0.2l-0.3 -1.6M135.8 301.9l2.0 -0.1l0.5 2.0l-1.9 0.6M107.2 308.2l1.9 -1.1l1.4 1.7l-1.6 1.5M113.2 301.9l0.8 -0.8l0.9 0.7l-0.6 1.0M121.3 306.0l-0.6 2.0l-2.1 -0.3l0.1 -2.1M133.8 291.7l-0.7 -1.1l1.0 -0.9l1.0 0.9M135.4 299.7l-1.2 0.9l-1.1 -1.0l1.0 -1.2M102.7 301.7l-1.0 1.2l-1.4 -0.8l0.7 -1.4M111.3 302.6l-1.2 -0.5l0.3 -1.3l1.3 0.2M98.4 315.6l-0.5 2.4l-2.4 -0.1l-0.1 -2.4M93.0 311.2l-0.0 -1.2l1.2 -0.2l0.3 1.2M126.3 297.6l0.1 -1.3l1.3 -0.1l0.2 1.3M111.3 300.8l-1.2 -2.2l2.0 -1.6l1.7 1.9M135.3 303.8l1.0 1.3l-1.1 1.2l-1.3 -1.0M100.1 303.9l1.4 -0.3l0.5 1.4l-1.3 0.6M94.8 311.7l1.0 2.0l-1.8 1.3l-1.4 -1.7M101.9 314.1l0.3 1.9l-1.8 0.6l-0.8 -1.8M98.2 315.5l-1.4 -0.4l0.2 -1.5l1.5 0.1M116.5 296.7l1.0 -0.4l0.5 0.9l-0.9 0.6M135.3 302.5l-1.8 -0.2l-0.1 -1.8l1.8 -0.3M126.8 297.3l-1.0 0.2l-0.3 -1.0l0.9 -0.4M107.0 298.1l-2.4 -0.2l-0.2 -2.4l2.4 -0.3M103.7 307.7l0.2 -1.2l1.2 -0.1l0.1 1.2M88.1 317.7l1.0 -2.1l2.3 0.6l-0.5 2.3M130.3 292.4l-1.7 0.3l-0.6 -1.6l1.6 -0.8M134.6 303.6l2.1 1.3l-1.0 2.3l-2.3 -0.8M136.8 296.3l-1.8 -0.3l-0.0 -1.9l1.9 -0.2M97.3 318.1l-0.6 1.4l-1.5 -0.3l0.2 -1.5M109.2 313.0l-0.9 0.7l-0.9 -0.8l0.7 -0.9M129.9 297.3l-1.8 0.5l-0.8 -1.7l1.7 -0.9M135.2 296.2l-0.5 1.9l-2.0 -0.2l0.0 -2.0M110.2 307.9l-0.8 1.3l-1.4 -0.5l0.4 -1.4M111.1 312.3l0.4 1.3l-1.2 0.7l-0.7 -1.2M131.2 300.5l-2.3 -1.0l0.6 -2.5l2.5 0.4M130.7 300.6l1.9 1.3l-0.9 2.1l-2.2 -0.8M98.6 303.1l-2.0 -1.3l0.9 -2.1l2.2 0.8M110.8 300.6l1.7 0.2l0.1 1.7l-1.6 0.2M108.2 311.8l-0.8 0.8l-0.9 -0.7l0.6 -1.0M97.3 315.8l-2.3 -0.7l0.3 -2.4l2.4 0.1M108.8 306.5l-0.3 -1.2l1.1 -0.5l0.6 1.1M109.3 305.2l1.2 -0.2l0.4 1.1l-1.1 0.5M121.1 298.3l2.5 -0.1l0.5 2.4l-2.3 0.7M95.2 317.9l1.2 -0.9l1.1 1.0l-0.9 1.1M102.2 309.1l0.9 2.1l-2.0 1.3l-1.4 -1.9M126.8 299.8l-0.2 -2.1l2.0 -0.5l0.7 2.0M110.5 309.7l2.3 0.2l0.2 2.3l-2.3 0.3M99.8 305.4l-0.9 0.8l-1.0 -0.8l0.7 -1.0M118.7 298.2l-0.9 1.7l-1.8 -0.6l0.5 -1.8M115.7 303.4l-0.7 -1.9l1.7 -1.1l1.2 1.6M112.1 304.2l1.6 -1.1l1.3 1.4l-1.3 1.4M119.0 307.4l1.4 -1.0l1.2 1.2l-1.1 1.3M132.4 299.7l1.8 0.8l-0.5 1.9l-1.9 -0.4M95.3 304.6l-1.4 1.1l-1.3 -1.2l1.1 -1.4M91.1 313.3l0.1 1.8l-1.8 0.4l-0.6 -1.8M106.1 302.8l1.3 0.6l-0.4 1.3l-1.4 -0.3M101.1 315.1l1.6 -1.1l1.3 1.4l-1.3 1.4M93.8 316.7l-1.2 -0.3l0.1 -1.2l1.2 -0.0M102.4 299.5l1.4 0.6l-0.3 1.5l-1.5 -0.2M111.4 301.5l1.9 0.6l-0.2 1.9l-1.9 -0.1M89.8 320.4l-1.5 0.0l-0.3 -1.5l1.4 -0.4M115.9 296.2l1.3 -0.7l0.9 1.2l-1.1 1.0M115.9 295.0l2.4 -0.1l0.5 2.4l-2.3 0.7M99.9 311.1l1.0 -0.9l1.0 0.8l-0.7 1.1M130.8 300.0l1.7 -1.8l2.0 1.3l-1.2 2.1M130.1 293.7l2.0 -0.8l1.1 1.8l-1.7 1.3M129.9 295.9l0.1 1.3l-1.2 0.3l-0.4 -1.2M110.0 312.2l-2.0 -1.3l0.9 -2.2l2.3 0.8M104.3 311.4l1.1 -0.1l0.3 1.1l-1.1 0.4M123.4 299.0l0.5 -1.3l1.4 0.2l-0.1 1.4M132.6 297.6l-1.4 -0.4l0.2 -1.4l1.4 0.1M117.5 295.3l-1.2 -1.5l1.3 -1.4l1.5 1.2M109.2 312.0l-2.2 -0.2l-0.2 -2.2l2.2 -0.3M128.4 307.2l1.2 2.2l-2.0 1.5l-1.7 -1.9M134.0 294.8l0.2 2.0l-1.9 0.5l-0.6 -1.9M101.9 306.1l-1.2 -0.7l0.4 -1.3l1.3 0.3M113.6 304.5l0.4 -1.4l1.4 0.2l-0.1 1.4M92.3 320.8l-1.8 -0.5l0.2 -1.9l1.9 0.1M134.7 297.3l-0.5 1.1l-1.2 -0.3l0.2 -1.2M124.7 307.4l-1.2 -0.8l0.5 -1.3l1.4 0.4M93.2 317.7l-0.0 1.3l-1.3 0.2l-0.3 -1.2M97.4 313.2l0.5 -2.3l2.3 0.1l0.0 2.3M109.5 296.6l2.5 0.7l-0.2 2.5l-2.6 -0.1M140.5 294.0l-0.5 1.6l-1.6 -0.2l0.1 -1.6M120.6 297.5l1.6 -0.7l1.0 1.4l-1.4 1.1" stroke="#111" stroke-width="0.9" fill="none" stroke-linejoin="round"/>
<circle cx="96.5" cy="328.5" r="1.2" fill="#111"/>
<circle cx="103.5" cy="327.9" r="0.9" fill="#111"/>
<circle cx="97.7" cy="323.8" r="0.8" fill="#111"/>
<circle cx="121" cy="311" r="0.8" fill="#111"/>
<circle cx="125.7" cy="311" r="0.7" fill="#111"/>
<circle cx="136.2" cy="311.5" r="0.7" fill="#111"/>
<circle cx="112.9" cy="315.6" r="0.7" fill="#111"/>
<circle cx="94" cy="326" r="0.7" fill="#111"/>
<circle cx="100.5" cy="325.2" r="0.7" fill="#111"/>
<circle cx="92" cy="322" r="0.8" fill="#111"/>
<circle cx="105" cy="318" r="0.7" fill="#111"/>
<path d="M280.7 320.7l1.9 -0.7l1.4 1.5M284.2 321.6l-0.8 0.2l-0.5 -0.7M290.3 320.2l1.7 1.5l-0.7 2.1M276.1 318.2l-1.5 -0.7l0.2 -1.7M262.4 318.1l1.1 -0.6l1.0 0.8M285.0 317.8l1.3 1.6l-1.0 1.8M280.5 317.6l0.6 -0.6l0.7 0.3M268.3 318.1l1.6 -1.7l2.2 0.9M270.7 321.8l-0.7 -1.5l1.1 -1.2M268.1 321.7l1.9 -0.4l1.1 1.6M288.8 318.5l0.7 1.2l-0.9 1.1M266.4 317.3l-1.0 -0.8l0.3 -1.2M262.1 320.4l-0.5 1.2l-1.3 -0.0M286.6 319.4l-1.3 0.2l-0.6 -1.2M283.1 317.3l2.3 0.3l0.5 2.3M284.5 321.2l0.2 -0.8l0.8 -0.1M273.0 319.9l0.8 0.2l0.1 0.8M267.4 321.8l0.0 -1.1l1.1 -0.4M289.9 321.7l-0.8 1.1l-1.3 -0.4M277.7 320.9l-0.0 -1.0l0.9 -0.4M285.9 321.3l0.8 -0.3l0.6 0.6M264.7 318.7l1.5 -0.9l1.4 1.1M272.2 321.6l-0.6 1.5l-1.7 -0.0M271.5 317.9l0.5 0.7l-0.5 0.8M282.7 322.0l1.0 0.3l0.1 1.1M291.6 319.7l0.1 1.4l-1.3 0.6M279.8 321.1l-1.3 0.7l-1.2 -1.0M263.7 321.6l-0.9 0.0l-0.3 -0.8M287.2 317.7l1.9 -0.6l1.3 1.5M280.9 320.9l-0.9 0.4l-0.7 -0.7M266.5 321.2l-1.2 0.4l-0.8 -1.0M292.0 321.3l-2.3 0.7l-1.5 -1.9M276.6 320.6l-0.4 1.5l-1.6 0.2M274.1 317.7l1.4 -0.1l0.6 1.3M261.0 328.0l-0.8 1.4l-1.6 -0.3M238.3 325.2l1.4 -1.5l1.9 0.7M245.4 329.3l-0.7 -1.9l1.5 -1.3M253.3 329.1l-0.4 -1.3l1.1 -0.8M243.3 326.9l-0.7 -1.9l1.5 -1.4M243.6 330.6l-1.6 -0.9l0.2 -1.8M236.3 327.4l-0.6 -1.1l0.8 -0.9M248.0 329.5l0.5 -1.8l1.8 -0.1M245.0 328.2l0.9 -1.7l2.0 0.2M245.1 329.7l-0.8 -2.0l1.6 -1.5M261.4 330.7l-1.6 -0.3l-0.3 -1.6M240.3 329.7l-2.3 0.3l-1.1 -2.0M254.0 328.8l0.9 1.7l-1.3 1.5M256.3 327.6l-1.6 0.9l-1.4 -1.2M252.2 329.2l-0.3 -1.8l1.5 -1.0M236.7 324.3l-0.9 -1.2l0.8 -1.3M241.7 328.5l1.7 0.5l0.2 1.8M248.3 324.8l0.6 0.7l-0.4 0.8M244.3 324.5l1.1 0.2l0.2 1.1M248.1 326.0l-1.5 -1.0l0.3 -1.7M242.2 330.2l-0.7 0.4l-0.7 -0.5M243.2 326.3l0.5 -0.9l1.0 0.1M245.7 323.3l1.5 1.0l-0.4 1.7M250.2 325.7l1.7 -0.5l1.0 1.4M257.3 326.4l-1.3 -1.6l1.0 -1.8M245.6 324.1l-1.6 -0.7l0.1 -1.8M260.9 330.7l-1.1 1.4l-1.7 -0.5M259.2 323.0l-0.9 -0.4l0.0 -1.0M252.0 324.1l1.4 -1.1l1.6 0.9M245.8 326.5l-0.3 1.1l-1.2 0.1M243.5 338.3l2.0 -1.2l1.9 1.4M236.7 336.6l-2.4 0.1l-0.9 -2.2M233.5 337.5l-2.4 0.1l-1.0 -2.2M231.2 339.7l-0.7 -0.7l0.4 -0.9M234.0 337.1l0.9 -1.8l2.0 0.2M226.2 340.5l1.1 -0.5l0.9 0.9M240.1 336.4l0.7 1.0l-0.7 1.0M243.8 337.1l-1.7 0.3l-0.9 -1.5M237.6 341.5l1.5 1.3l-0.7 1.9M239.7 337.2l-0.9 1.4l-1.6 -0.3M231.3 340.4l-1.0 1.2l-1.5 -0.5M239.4 341.3l-0.0 0.9l-0.8 0.3M234.2 345.8l-2.1 -0.6l-0.2 -2.2M226.3 343.9l-1.3 -0.7l0.2 -1.5M238.7 341.9l1.3 -0.8l1.3 0.9M232.9 338.5l0.7 2.0l-1.6 1.4M290.4 313.2l0.5 -0.8l0.9 0.2M293.6 311.2l0.2 -1.2l1.2 -0.2M295.3 309.7l-1.5 -0.5l-0.1 -1.6M292.0 310.7l-0.9 -0.5l0.2 -1.0M294.5 309.3l0.5 -1.1l1.2 0.1M294.3 312.3l-0.1 -0.8l0.7 -0.4M295.8 314.0l1.8 0.6l0.1 1.9M294.7 310.1l1.7 -0.5l1.1 1.4" stroke="#111" stroke-width="1.0" fill="none"/>
<path d="M310.8 309.2 L312.3 311.5 L311.0 315.0 L308.5 318.5 L306.0 321.5 L303.5 324.0 L301.0 323.0 L301.8 319.5 L303.8 316.0 L306.0 312.5 L308.5 309.8 Z" fill="#f46f76" stroke="#111" stroke-width="1.2" stroke-linejoin="round"/>
<path d="M288.0 311.5 L291.0 310.8 L293.5 312.0 L292.0 314.0 L288.5 313.8 Z" fill="#f46f76" stroke="#111" stroke-width="0.8" stroke-linejoin="round"/>
<path d="M236.0 331.0 L240.0 330.0 L242.0 332.0 L238.0 333.5 Z" fill="#f46f76" stroke="#111" stroke-width="0.9" stroke-linejoin="round"/>
<path d="M237.5 319.5 L240.5 318.8 L243.5 320.5 L244.0 323.5 L241.5 326.0 L238.5 325.0 L237.0 322.5 Z" fill="#f46f76" stroke="#111" stroke-width="1.5" stroke-linejoin="round"/>
<path d="M246.0 321.0 L249.5 320.0 L252.5 321.5 L251.5 324.5 L248.0 326.0 L245.5 324.0 Z" fill="#f46f76" stroke="#111" stroke-width="1.5" stroke-linejoin="round"/>
<path d="M254.0 319.5 L257.5 318.3 L260.0 320.0 L258.5 323.0 L255.0 323.5 Z" fill="#9cc3e6" stroke="#111" stroke-width="1.5" stroke-linejoin="round"/>
<path d="M261.5 316.8 L265.0 316.0 L267.5 317.5 L265.5 319.8 L262.0 319.5 Z" fill="#f46f76" stroke="#111" stroke-width="1.5" stroke-linejoin="round"/>
<path d="M245.3 319.9l1.1 -0.7l1.0 0.8M250.6 324.7l-1.4 1.3l-1.7 -0.8M254.8 323.6l-1.2 -1.9l1.3 -1.8M257.7 322.1l0.7 1.0l-0.7 1.1M254.5 319.3l-1.5 -1.4l0.8 -1.9M236.6 325.7l0.7 -0.8l1.0 0.4M257.7 319.8l-0.2 -2.1l1.9 -1.0M238.4 324.5l1.0 -0.6l1.0 0.7M253.6 327.8l-0.4 1.0l-1.1 -0.1M251.7 323.9l1.0 -0.8l1.1 0.6M257.9 320.7l-0.6 -1.1l0.8 -1.0M246.0 324.5l-1.4 1.1l-1.5 -0.9M235.6 318.9l-0.2 -1.7l1.5 -0.8M246.5 325.3l1.4 -1.3l1.7 0.8M252.7 320.9l1.1 0.5l-0.1 1.2M236.1 326.6l0.0 -2.4l2.2 -0.9M238.0 324.4l0.9 -0.8l1.1 0.6M252.7 325.4l-1.7 1.0l-1.5 -1.3M257.9 327.6l-1.3 0.5l-1.0 -1.0M254.8 324.6l-1.6 0.5l-1.0 -1.3M261.1 320.4l-0.5 -1.2l1.0 -0.9M242.5 326.9l1.4 -0.7l1.1 1.0M245.3 326.8l-0.3 -2.2l1.9 -1.0M240.8 319.2l0.4 1.0l-0.7 0.8M253.0 318.2l-1.3 -0.6l0.1 -1.4M239.2 321.0l-0.6 -1.2l0.9 -1.0M238.2 328.0l-0.5 -1.9l1.6 -1.1M249.9 322.7l2.0 -1.6l2.2 1.3M257.2 317.8l1.8 -0.7l1.3 1.4M252.2 322.9l0.9 1.8l-1.4 1.5M254.6 325.7l-1.1 -0.1l-0.3 -1.1M251.1 321.2l1.8 -1.0l1.6 1.4M259.5 320.7l0.8 -1.0l1.2 0.3M251.5 326.2l-0.4 2.3l-2.3 0.4M250.9 320.7l-0.8 -2.1l1.7 -1.5M241.5 322.8l0.2 1.9l-1.7 0.9M239.9 322.5l-1.1 0.0l-0.4 -1.0M260.4 326.2l0.5 -1.0l1.1 0.1M254.3 324.9l0.1 -1.0l1.0 -0.3M240.3 325.9l-1.0 1.1l-1.4 -0.5M239.7 326.6l0.9 -1.0l1.2 0.5M248.9 319.1l-2.0 -0.4l-0.4 -2.0M235.7 326.1l1.4 0.2l0.3 1.4M255.7 325.1l0.6 1.5l-1.2 1.1M249.2 323.7l-2.1 0.1l-0.9 -1.9M250.3 325.1l0.6 1.2l-0.9 0.9" stroke="#111" stroke-width="1.5" fill="none" stroke-linejoin="round"/>
<path d="M269.7 315.6l0.2 1.2l-1.1 0.6M270.8 318.5l1.9 1.2l-0.4 2.2M267.1 315.6l-1.1 -0.0l-0.4 -1.1M262.3 316.4l-1.8 -0.5l-0.2 -1.8M264.6 318.2l2.1 0.1l0.7 2.0M271.7 318.6l0.8 1.1l-0.8 1.1M273.5 317.0l0.8 0.5l-0.2 0.9M272.2 318.2l-0.3 -2.1l1.8 -1.0M268.4 319.9l-1.3 -0.4l-0.1 -1.4M272.0 318.3l-1.9 -1.0l0.2 -2.2M270.5 315.7l-0.3 1.1l-1.2 0.1M263.0 316.5l-0.2 0.9l-0.9 0.2" stroke="#111" stroke-width="1.2" fill="none" stroke-linejoin="round"/>
<path d="M236.9 324.3l-1.0 0.2l-0.6 -0.8M252.1 325.1l-1.5 0.0l-0.6 -1.4M236.5 321.9l0.8 -1.1l1.3 0.4M249.1 324.8l0.7 1.3l-1.0 1.1M256.4 325.4l1.2 0.8l-0.3 1.4M248.3 322.5l-1.7 -1.2l0.5 -2.0M248.2 323.2l1.3 0.4l0.1 1.4M237.5 326.5l-0.6 2.1l-2.1 0.2M257.3 322.7l0.6 -0.8l0.9 0.3M250.0 326.4l1.6 1.1l-0.4 1.8M250.9 325.1l-1.1 2.0l-2.2 -0.3M248.7 324.3l0.6 -0.9l1.0 0.3" stroke="#f46f76" stroke-width="1.2" fill="none" stroke-linejoin="round"/>
<path d="M444.3 275.8 L447.5 273.9 L451 274.6 L452.2 277.3" stroke="#111" stroke-width="2.4" fill="none" stroke-linejoin="round"/>
<path d="M442.5 277 L441 281 L439.8 285 M439.5 288 l.5 3" stroke="#111" stroke-width="1.5" fill="none"/>
<path d="M458.2 263.6l-1.8 0.2l-0.9 -1.6M458.8 264.7l-2.1 -0.2l-0.6 -2.0M461.8 258.6l-0.6 0.6l-0.7 -0.3M462.6 256.8l0.2 2.1l-1.8 1.0M458.9 256.5l-0.2 -2.4l2.2 -1.0M465.7 262.8l-0.4 0.8l-0.8 -0.1M461.7 257.3l-1.6 1.7l-2.2 -0.8M458.1 265.0l0.9 -0.4l0.7 0.7M461.3 262.1l-1.3 0.1l-0.6 -1.2M458.5 256.4l0.2 2.2l-2.0 1.0M464.7 258.3l1.8 -1.5l2.0 1.2M464.4 264.4l-0.2 -1.7l1.5 -0.8M457.8 261.2l0.6 2.0l-1.7 1.3M466.2 265.8l-1.0 1.1l-1.4 -0.5M461.2 260.2l-1.8 1.6l-2.1 -1.1M456.8 257.0l1.9 -0.1l0.8 1.8M461.7 261.4l-0.0 -1.7l1.6 -0.6M458.8 262.7l-1.2 -1.2l0.7 -1.6M458.4 257.9l1.2 -0.6l1.0 0.9M460.1 262.6l1.0 0.8l-0.4 1.2M457.2 265.0l-1.4 1.4l-1.9 -0.8M463.7 263.4l2.2 -0.6l1.3 1.8" stroke="#111" stroke-width="1.0" fill="none" stroke-linejoin="round"/>
<path d="M460.4 282.4l0.8 -0.0l0.3 0.8M448.8 282.1l-1.0 1.5l-1.8 -0.4M459.3 283.9l-1.0 2.1l-2.3 -0.2M455.0 295.8l1.7 -0.9l1.4 1.2M456.6 280.8l-1.9 -1.2l0.4 -2.2M450.7 283.2l-1.9 -1.1l0.3 -2.1M460.1 293.2l-2.1 -0.9l0.1 -2.3M456.5 290.4l1.2 -0.3l0.7 1.0M450.7 293.3l-1.4 -1.9l1.3 -2.0M448.1 294.0l0.7 1.7l-1.3 1.3M446.7 289.0l0.8 -0.4l0.6 0.6M453.6 288.8l-0.8 -1.2l0.9 -1.2M459.7 285.2l-1.2 -0.7l0.2 -1.4M450.5 290.1l-1.5 0.7l-1.2 -1.2M456.1 289.0l0.9 -0.0l0.4 0.9M451.3 287.3l1.3 -0.6l1.1 1.0M460.3 288.7l1.2 0.8l-0.3 1.4M459.4 282.9l-1.0 1.4l-1.6 -0.4M450.9 286.1l1.1 0.3l0.2 1.1M454.0 293.5l0.6 1.8l-1.4 1.1M456.4 280.9l0.7 -1.3l1.4 0.2M459.8 287.8l-2.2 0.0l-0.8 -2.0M453.9 289.9l-0.1 -2.4l2.2 -1.0M453.1 292.4l-1.1 1.5l-1.8 -0.5M457.8 293.9l1.7 -0.6l1.2 1.3M446.3 288.5l-1.0 1.5l-1.8 -0.4M448.6 291.8l-0.2 1.5l-1.4 0.4M446.6 296.4l1.0 0.9l-0.5 1.3M449.2 284.3l0.9 2.0l-1.5 1.6M450.1 281.7l0.4 1.5l-1.2 0.9M451.2 292.5l1.1 -2.0l2.3 0.4M446.6 286.4l2.1 0.4l0.4 2.1M449.0 288.3l-0.0 -1.4l1.3 -0.5M456.8 287.9l0.1 1.2l-1.1 0.6M450.0 281.1l1.0 1.6l-1.1 1.5M459.3 291.0l-0.9 0.0l-0.3 -0.8M455.1 280.7l1.6 0.3l0.3 1.6M457.5 280.1l1.8 -0.2l0.8 1.6M458.7 284.0l1.1 1.3l-0.8 1.4M451.1 294.7l2.1 0.1l0.7 2.0" stroke="#111" stroke-width="0.9" fill="none" stroke-linejoin="round"/>
<path d="M467.2 261.2l1.9 1.1l-0.3 2.2M463.5 252.8l1.1 1.2l-0.7 1.5M459.1 253.1l-1.1 0.3l-0.7 -0.9M457.3 247.4l-1.7 0.9l-1.5 -1.3M462.6 257.7l1.3 0.5l0.0 1.4M465.6 255.4l-1.3 -1.3l0.7 -1.7M467.7 251.8l-1.4 1.5l-1.9 -0.7M463.3 256.6l1.1 0.7l-0.2 1.3M462.2 257.5l-1.6 0.6l-1.1 -1.3M464.1 248.9l-0.5 1.0l-1.1 -0.1M466.0 249.1l0.8 0.6l-0.2 1.0M457.4 250.4l0.7 -1.6l1.7 0.1M460.6 251.9l-0.4 1.2l-1.3 0.0M465.6 254.8l0.9 0.8l-0.4 1.2" stroke="#e0555f" stroke-width="0.9" fill="none" stroke-linejoin="round"/>
<path d="M167.0 366.8l1.1 -0.0l0.4 1.0M159.7 362.4l0.0 -0.9l0.9 -0.3M159.1 363.4l0.2 -1.9l1.9 -0.5M163.2 367.5l1.8 1.6l-0.8 2.2M164.2 369.9l-1.9 0.7l-1.3 -1.5M161.3 369.8l0.1 -0.9l0.9 -0.3M168.8 349.1l-0.4 1.2l-1.3 0.0M164.6 354.5l2.0 -1.0l1.7 1.5M161.4 368.3l0.7 0.5l-0.2 0.9M166.3 365.8l2.1 -0.1l0.9 1.9M169.0 351.9l1.8 -0.9l1.5 1.3M158.3 357.9l0.7 0.8l-0.5 0.9M163.7 362.4l1.6 1.7l-1.0 2.1M164.1 370.9l-2.0 -0.4l-0.3 -2.0M160.4 361.4l-0.8 -1.0l0.6 -1.0M166.1 355.2l-1.7 1.2l-1.7 -1.2M163.6 366.6l0.5 1.1l-0.9 0.8M165.0 356.3l0.0 2.2l-2.0 0.8M162.2 346.5l-0.6 1.4l-1.5 -0.0M163.3 364.9l0.9 -0.1l0.4 0.8M167.0 366.1l-1.5 -0.8l0.2 -1.7M162.7 355.3l-0.4 1.1l-1.2 0.0M161.1 353.7l0.7 -2.1l2.2 -0.2M166.0 345.4l-1.2 -0.3l-0.1 -1.2M166.7 355.9l1.5 -1.0l1.5 1.0M160.7 354.9l-0.8 1.8l-2.0 -0.1M167.1 355.3l-0.8 0.2l-0.5 -0.7M158.0 365.4l-2.1 -0.4l-0.4 -2.1M169.6 350.5l0.7 1.4l-1.0 1.1M157.7 366.4l0.8 -0.4l0.6 0.6M164.8 363.2l0.7 -0.5l0.7 0.5M168.1 347.7l0.7 0.8l-0.5 1.0M164.1 347.0l-2.1 0.0l-0.8 -1.9M166.9 351.6l-1.8 0.5l-1.1 -1.5M166.1 355.7l1.3 -2.0l2.3 0.5M168.7 353.9l0.6 0.9l-0.6 0.9M158.8 370.2l0.9 -0.9l1.2 0.5M160.3 361.1l-0.4 1.1l-1.2 0.0M167.5 360.8l0.2 2.3l-2.1 1.0M160.8 346.6l1.1 -0.1l0.5 1.0M164.9 357.4l0.1 -1.3l1.3 -0.4M166.6 349.0l0.4 0.8l-0.6 0.7M168.4 364.1l0.1 1.2l-1.0 0.5M161.3 362.7l0.1 2.0l-1.8 0.9M161.6 351.2l-2.2 -0.7l-0.1 -2.3M170.2 351.3l-1.6 -0.8l0.1 -1.8M170.0 354.5l0.5 -1.1l1.2 0.1M170.3 358.2l1.1 0.7l-0.2 1.3M163.2 369.1l-1.3 0.4l-0.9 -1.1M164.9 351.2l-1.0 -0.1l-0.2 -0.9M170.5 367.7l0.3 -1.3l1.3 -0.2M168.6 360.2l0.5 1.3l-1.0 0.9M166.9 362.8l0.7 0.9l-0.6 1.0M158.6 366.5l-2.2 -0.2l-0.6 -2.1M165.6 363.4l-1.0 -0.1l-0.3 -1.0" stroke="#111" stroke-width="1.4" fill="none" stroke-linejoin="round"/>
<path d="M174.4 389.0l0.5 2.1l-1.8 1.2M178.8 385.3l0.8 -0.3l0.5 0.7M173.3 381.0l-1.3 -0.8l0.3 -1.5M172.1 385.9l-2.1 -0.2l-0.6 -2.0M178.2 385.1l0.9 1.9l-1.5 1.5M174.2 383.1l1.0 -0.2l0.5 0.8M176.7 378.3l-1.5 0.9l-1.4 -1.1M172.7 379.1l1.4 0.7l-0.1 1.5M176.1 383.7l0.7 -0.7l0.9 0.4M171.4 379.2l0.4 2.1l-1.8 1.1M174.8 384.3l-1.5 0.1l-0.6 -1.4M175.5 383.3l0.4 -0.8l0.9 0.0M173.5 377.6l0.6 -1.3l1.5 0.0M176.7 382.9l0.3 1.5l-1.3 0.8" stroke="#111" stroke-width="1.2" fill="none" stroke-linejoin="round"/>
<path d="M504.2 128.1l-0.9 -0.7l0.3 -1.1M500.8 145.3l2.0 0.5l0.2 2.0M503.9 137.1l1.7 -0.5l1.1 1.4M505.4 134.3l0.5 -2.1l2.1 -0.3M505.4 122.9l0.4 2.3l-2.0 1.2M501.1 139.9l2.1 -0.6l1.3 1.7M502.3 146.8l0.8 -0.2l0.5 0.7M502.0 138.3l1.0 0.3l0.1 1.0M500.5 140.0l0.7 -1.6l1.7 0.1M504.8 134.7l0.7 2.1l-1.7 1.4M504.9 129.5l-1.7 1.5l-2.1 -1.0M502.6 137.5l0.8 0.4l-0.1 0.9M503.2 143.4l-0.7 0.5l-0.7 -0.5M502.3 145.4l2.0 1.3l-0.5 2.3M503.2 125.1l1.9 -0.7l1.4 1.5M504.0 139.4l0.7 0.5l-0.2 0.8M501.7 124.5l1.0 -0.3l0.6 0.8M502.2 149.2l0.3 -2.0l2.0 -0.4M505.1 142.9l-1.3 0.3l-0.7 -1.1M502.5 123.0l-0.8 -0.4l0.0 -0.9M503.1 151.2l0.7 -1.6l1.8 0.1M502.9 139.5l2.1 0.4l0.3 2.1M500.6 134.9l-1.1 0.6l-0.9 -0.9M500.8 127.1l-0.7 -0.6l0.3 -0.9M500.7 122.6l-1.7 0.9l-1.4 -1.2M500.6 150.2l1.5 -0.6l1.1 1.1" stroke="#111" stroke-width="1.1" fill="none" stroke-linejoin="round"/>
<path d="M494.7 173.4l0.8 2.2l-1.8 1.5M490.9 176.1l-0.9 1.0l-1.2 -0.5M495.8 162.0l-2.3 0.1l-0.9 -2.1M491.0 178.2l1.5 0.8l-0.2 1.7M496.0 175.0l-1.1 -1.7l1.1 -1.6M497.0 158.3l-1.5 -1.8l1.2 -2.0M492.1 171.5l-0.8 -1.1l0.7 -1.1M495.1 169.5l-0.7 0.6l-0.8 -0.5M492.5 174.5l0.4 -2.3l2.2 -0.5M493.9 161.7l-0.2 1.9l-1.9 0.5M497.0 161.8l2.3 0.2l0.6 2.3M495.6 165.6l-1.5 0.9l-1.3 -1.1" stroke="#111" stroke-width="1.0" fill="none" stroke-linejoin="round"/>
<path d="M320.3 271.9l0.8 1.6l-1.2 1.3M320.6 274.2l0.3 1.4l-1.2 0.8M325.8 276.9l0.4 0.9l-0.7 0.7M318.6 272.7l0.9 -0.1l0.4 0.8M324.3 277.9l0.8 -0.6l0.8 0.6M328.1 275.8l-0.2 1.8l-1.8 0.4M322.7 275.8l1.0 0.1l0.3 1.0M333.4 275.4l-1.2 -0.2l-0.3 -1.2M336.2 273.0l-0.9 0.5l-0.8 -0.6M321.4 273.6l0.1 -0.8l0.8 -0.2M334.1 273.6l-0.1 1.4l-1.3 0.4M337.1 277.1l0.8 1.7l-1.2 1.4M321.4 276.4l-0.4 -1.0l0.8 -0.8M326.4 271.2l1.0 -0.6l0.9 0.7M324.4 275.7l-1.6 1.2l-1.7 -1.1M328.0 277.0l-1.9 -0.3l-0.5 -1.9" stroke="#111" stroke-width="1.2" fill="none" stroke-linejoin="round"/>
<path d="M360.9 315.1l-0.5 2.1l-2.1 0.3M360.6 315.1l1.4 -0.2l0.8 1.3M356.9 316.0l-0.7 0.9l-1.1 -0.3M365.0 315.0l-1.5 0.9l-1.4 -1.1M362.6 316.0l-1.0 0.4l-0.8 -0.8M359.7 319.1l0.6 1.6l-1.3 1.1M362.1 314.7l0.3 1.6l-1.4 0.9M359.7 319.1l0.0 -1.6l1.5 -0.6M362.8 317.3l-1.5 1.1l-1.6 -1.0M361.6 319.0l0.9 -0.4l0.7 0.7" stroke="#111" stroke-width="1.2" fill="none" stroke-linejoin="round"/>
<path d="M240.7 355.9l-0.5 -0.7l0.5 -0.7M239.1 355.4l-0.9 -1.1l0.7 -1.2M242.9 358.8l2.4 -0.1l1.0 2.2M239.2 352.2l0.6 -0.9l1.0 0.2M241.0 366.6l-1.3 -1.9l1.3 -1.9M240.7 352.1l0.3 -0.8l0.8 -0.0M241.4 364.0l-0.8 -1.5l1.1 -1.3M241.2 366.2l-1.0 0.0l-0.4 -0.9M239.5 365.1l-0.0 2.2l-2.1 0.8M238.4 355.1l0.2 -1.3l1.3 -0.3M240.0 363.7l-1.3 -0.2l-0.3 -1.2M238.9 362.0l1.1 -1.2l1.5 0.5" stroke="#111" stroke-width="1.2" fill="none" stroke-linejoin="round"/>
<path d="M222.1 367.6l-0.6 -1.3l1.0 -1.0M222.7 367.6l0.1 -1.2l1.1 -0.4M222.7 376.4l1.2 1.4l-0.9 1.6M224.7 372.3l1.5 -0.0l0.6 1.3M222.5 366.3l-1.9 1.3l-1.9 -1.3M223.0 370.6l1.3 -0.4l0.8 1.1M223.1 369.0l-1.7 -0.5l-0.1 -1.7M226.8 377.7l0.4 1.3l-1.1 0.8" stroke="#111" stroke-width="1.1" fill="none" stroke-linejoin="round"/>
</g>
<rect x="88" y="10.2" width="584.6" height="575.8" fill="none" stroke="#111" stroke-width="1.7"/>
<path d="M171.5 0 V10 M171.5 586 V596.2 M310.8 0 V10 M310.8 586 V596.2 M450.1 0 V10 M450.1 586 V596.2 M589.2 0 V10 M589.2 586 V596.2 M78 121.5 H88 M672.6 121.5 H682.8 M78 296.5 H88 M672.6 296.5 H682.8 M78 460.7 H88 M672.6 460.7 H682.8 " stroke="#111" stroke-width="1.3" fill="none"/>
<text x="152.6" y="621" font-size="19.6">130<tspan font-size="13" dx="0.2" dy="-7.5" stroke="#111" stroke-width="0.4">°</tspan></text>
<text x="291.90000000000003" y="621" font-size="19.6">135<tspan font-size="13" dx="0.2" dy="-7.5" stroke="#111" stroke-width="0.4">°</tspan></text>
<text x="431.20000000000005" y="621" font-size="19.6">140<tspan font-size="13" dx="0.2" dy="-7.5" stroke="#111" stroke-width="0.4">°</tspan></text>
<text x="570.3000000000001" y="621" font-size="19.6">145<tspan font-size="13" dx="0.2" dy="-7.5" stroke="#111" stroke-width="0.4">°</tspan></text>
<text x="40.2" y="129.5" font-size="19.6">40<tspan font-size="13" dx="0.2" dy="-7.5" stroke="#111" stroke-width="0.4">°</tspan></text>
<text x="40.2" y="304.5" font-size="19.6">35<tspan font-size="13" dx="0.2" dy="-7.5" stroke="#111" stroke-width="0.4">°</tspan></text>
<text x="40.2" y="468.7" font-size="19.6">30<tspan font-size="13" dx="0.2" dy="-7.5" stroke="#111" stroke-width="0.4">°</tspan></text>
<text x="324.9" y="655.3" font-size="24.9" letter-spacing="-0.28">Longitude</text>
<text transform="translate(20.2 350.6) rotate(-90)" font-size="25.3" letter-spacing="-0.3">Latitude</text>
<text x="184.6" y="147.1" font-size="24.9" letter-spacing="0.62">2090s</text>
<text x="184.8" y="176.5" font-size="24.2" letter-spacing="0.62">MIROC5, RCP2.6</text>
<text transform="translate(529.9 213.7) scale(1 0.845)" font-size="40.1" style="font-family:'DejaVu Sans','Liberation Sans',sans-serif;stroke:#fff;stroke-width:0.75px">△</text>
<text x="561" y="217" font-size="31.3">NPP</text>
<text x="488" y="251" font-size="24.6">(kgC</text>
<text x="547.7" y="251" font-size="24.6" textLength="23.3" lengthAdjust="spacingAndGlyphs">m</text>
<text x="567.3" y="243.6" font-size="17.2">-</text>
<text x="572.8" y="243.6" font-size="17.2">2</text>
<text x="591.2" y="251" font-size="24.6" textLength="53.2" lengthAdjust="spacingAndGlyphs">year</text>
<text x="641.9" y="243.6" font-size="17.2">-</text>
<text x="645.4" y="243.6" font-size="17.2">1</text>
<text x="656.2" y="251" font-size="24.6">)</text>
<path d="M531 272 V262.4 H592 V272" fill="none" stroke="#111" stroke-width="1.25"/>
<text x="529" y="293.7" font-size="19.8">200 km</text>
<text x="409.6" y="429.8" font-size="32.6" style="fill:#2272b8;stroke:#2272b8">Increase</text>
<text x="401.5" y="538.9" font-size="32.4" style="fill:#c9261c;stroke:#c9261c">Decrease</text>
<rect x="549.6" y="418.8" width="15" height="56" fill="url(#cbU)"/>
<rect x="549.6" y="474.8" width="15" height="56" fill="url(#cbL)"/>
<path d="M549.6 418.8 H574.5 M564.6 474.8 H574.5 M549.6 530.8 H574.5 M549.6 418.8 V530.8 M564.6 418.8 V530.8" fill="none" stroke="#111" stroke-width="1.35"/>
<text x="595.6" y="426.2" font-size="18.6">0.4</text>
<text x="595.6" y="482" font-size="18.6">0.0</text>
<text x="584.4" y="537.8" font-size="18.6">−0.4</text>
</svg></body></html>
